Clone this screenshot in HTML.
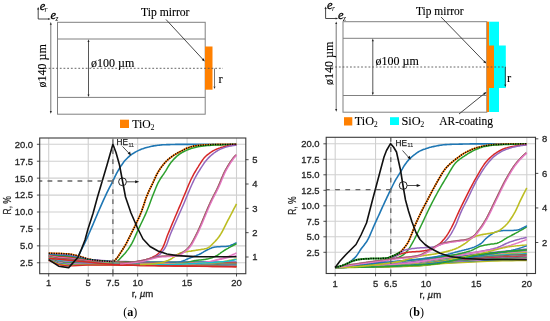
<!DOCTYPE html><html><head><meta charset="utf-8"><style>html,body{margin:0;padding:0;background:#fff;width:550px;height:321px;overflow:hidden}svg{display:block;will-change:transform}</style></head><body>
<svg width="550" height="321" viewBox="0 0 550 321">
<rect width="550" height="321" fill="#fff"/>
<line x1="38.2" y1="19" x2="38.2" y2="8.5" stroke="#333" stroke-width="0.9" />
<polygon points="38.20,7.00 39.30,9.50 37.10,9.50" fill="#222"/>
<line x1="38.2" y1="19" x2="48.7" y2="19" stroke="#333" stroke-width="0.9" />
<polygon points="50.70,19.00 48.20,20.10 48.20,17.90" fill="#222"/>
<text x="39.7" y="9.6" font-family="'Liberation Serif', serif" font-style="italic" font-size="12.5" stroke="#000" stroke-width="0.3">e</text>
<text x="44.5" y="11.8" font-family="'Liberation Serif', serif" font-style="italic" font-size="7.5">r</text>
<text x="50.5" y="19.1" font-family="'Liberation Serif', serif" font-style="italic" font-size="12.5" stroke="#000" stroke-width="0.3">e</text>
<text x="55.5" y="21.2" font-family="'Liberation Serif', serif" font-style="italic" font-size="7.5">z</text>
<rect x="57.5" y="22.3" width="147.7" height="91.9" fill="none" stroke="#808080" stroke-width="1"/>
<line x1="57.5" y1="39.0" x2="205.2" y2="39.0" stroke="#808080" stroke-width="1" />
<line x1="57.5" y1="97.4" x2="205.2" y2="97.4" stroke="#808080" stroke-width="1" />
<line x1="50.8" y1="24.3" x2="50.8" y2="112.2" stroke="#666" stroke-width="0.9" />
<polygon points="50.80,22.10 51.80,24.70 49.80,24.70" fill="#222"/>
<polygon points="50.80,113.70 49.80,111.10 51.80,111.10" fill="#222"/>
<line x1="88.5" y1="41.0" x2="88.5" y2="95.4" stroke="#444" stroke-width="0.9" />
<polygon points="88.50,39.30 89.50,41.90 87.50,41.90" fill="#222"/>
<polygon points="88.50,97.10 87.50,94.50 89.50,94.50" fill="#222"/>
<rect x="205" y="46.5" width="7.5" height="43.2" fill="#ff8000" />
<line x1="45" y1="68.3" x2="223" y2="68.3" stroke="#555" stroke-width="0.9" stroke-dasharray="1.8,1.9"/>
<line x1="214.5" y1="68.5" x2="214.5" y2="86.5" stroke="#666" stroke-width="0.9" />
<polygon points="214.50,89.00 213.50,86.40 215.50,86.40" fill="#222"/>
<text x="218.5" y="83" font-family="'Liberation Serif', serif" font-size="12.5" fill="#000" stroke="#000" stroke-width="0.12" >r</text>
<text x="141" y="15.5" font-family="'Liberation Serif', serif" font-size="12.3" stroke="#000" stroke-width="0.12" textLength="48.5" lengthAdjust="spacingAndGlyphs">Tip mirror</text>
<line x1="166" y1="19.5" x2="203" y2="59.5" stroke="#333" stroke-width="0.9" />
<polygon points="204.80,61.50 201.75,59.96 203.51,58.34" fill="#111"/>
<text x="91" y="66.5" font-family="'Liberation Serif', serif" font-size="12" fill="#000" stroke="#000" stroke-width="0.12" ><tspan font-size="12">ø</tspan>100 µm</text>
<text transform="translate(45.5,87.5) rotate(-90)" font-family="'Liberation Serif', serif" font-size="12" stroke="#000" stroke-width="0.12"><tspan font-size="12">ø</tspan>140 µm</text>
<rect x="120" y="119.7" width="9" height="8.3" fill="#ff8000" />
<text x="132.3" y="127.7" font-family="'Liberation Serif', serif" font-size="12.4" stroke="#000" stroke-width="0.12" textLength="18.4" lengthAdjust="spacingAndGlyphs">TiO</text>
<text x="150.5" y="129.7" font-family="'Liberation Serif', serif" font-size="8">2</text>
<line x1="325.6" y1="18.5" x2="325.6" y2="8.0" stroke="#333" stroke-width="0.9" />
<polygon points="325.60,6.50 326.70,9.00 324.50,9.00" fill="#222"/>
<line x1="325.6" y1="18.5" x2="336.1" y2="18.5" stroke="#333" stroke-width="0.9" />
<polygon points="338.10,18.50 335.60,19.60 335.60,17.40" fill="#222"/>
<text x="327.1" y="9.1" font-family="'Liberation Serif', serif" font-style="italic" font-size="12.5" stroke="#000" stroke-width="0.3">e</text>
<text x="331.90000000000003" y="11.3" font-family="'Liberation Serif', serif" font-style="italic" font-size="7.5">r</text>
<text x="337.90000000000003" y="18.6" font-family="'Liberation Serif', serif" font-style="italic" font-size="12.5" stroke="#000" stroke-width="0.3">e</text>
<text x="342.90000000000003" y="20.7" font-family="'Liberation Serif', serif" font-style="italic" font-size="7.5">z</text>
<rect x="343" y="21.7" width="143.8" height="90.5" fill="none" stroke="#808080" stroke-width="1"/>
<line x1="343" y1="38.3" x2="486.8" y2="38.3" stroke="#808080" stroke-width="1" />
<line x1="343" y1="95.5" x2="486.8" y2="95.5" stroke="#808080" stroke-width="1" />
<line x1="336.2" y1="23.7" x2="336.2" y2="110.2" stroke="#666" stroke-width="0.9" />
<polygon points="336.20,21.50 337.20,24.10 335.20,24.10" fill="#222"/>
<polygon points="336.20,111.70 335.20,109.10 337.20,109.10" fill="#222"/>
<line x1="372.8" y1="40.3" x2="372.8" y2="93.5" stroke="#444" stroke-width="0.9" />
<polygon points="372.80,38.60 373.80,41.20 371.80,41.20" fill="#222"/>
<polygon points="372.80,95.20 371.80,92.60 373.80,92.60" fill="#222"/>
<rect x="486.8" y="21.7" width="2.4" height="90.3" fill="#ff8000" />
<rect x="489.2" y="21.7" width="9.8" height="90.3" fill="#00ffff" />
<rect x="486.8" y="45.5" width="7.2" height="42.5" fill="#ff8000" />
<rect x="494" y="45.5" width="11.8" height="42.5" fill="#00ffff" />
<line x1="331.5" y1="67" x2="506" y2="67" stroke="#555" stroke-width="0.9" stroke-dasharray="1.8,1.9"/>
<line x1="505.3" y1="67" x2="505.3" y2="84.5" stroke="#333" stroke-width="0.9" />
<polygon points="505.30,87.00 504.30,84.40 506.30,84.40" fill="#111"/>
<text x="507" y="81.5" font-family="'Liberation Serif', serif" font-size="12.5" fill="#000" stroke="#000" stroke-width="0.12" >r</text>
<text x="416" y="15.2" font-family="'Liberation Serif', serif" font-size="12.3" stroke="#000" stroke-width="0.12" textLength="47.6" lengthAdjust="spacingAndGlyphs">Tip mirror</text>
<line x1="441" y1="17" x2="484.5" y2="61.8" stroke="#333" stroke-width="0.9" />
<polygon points="486.30,63.60 483.21,62.13 484.94,60.46" fill="#111"/>
<text x="375.5" y="65" font-family="'Liberation Serif', serif" font-size="12" fill="#000" stroke="#000" stroke-width="0.12" ><tspan font-size="12">ø</tspan>100 µm</text>
<text transform="translate(333,85) rotate(-90)" font-family="'Liberation Serif', serif" font-size="12" stroke="#000" stroke-width="0.12"><tspan font-size="12">ø</tspan>140 µm</text>
<line x1="459" y1="114" x2="484.5" y2="93.5" stroke="#333" stroke-width="0.9" />
<polygon points="486.50,92.00 484.75,94.94 483.25,93.06" fill="#111"/>
<rect x="344" y="117.2" width="8.3" height="8.3" fill="#ff8000" />
<text x="354.8" y="125.2" font-family="'Liberation Serif', serif" font-size="12.4" stroke="#000" stroke-width="0.12" textLength="19.2" lengthAdjust="spacingAndGlyphs">TiO</text>
<text x="373.8" y="127.4" font-family="'Liberation Serif', serif" font-size="8">2</text>
<rect x="390" y="117.2" width="9" height="7.8" fill="#00ffff" />
<text x="401.4" y="124.8" font-family="'Liberation Serif', serif" font-size="12.4" stroke="#000" stroke-width="0.12" textLength="19.2" lengthAdjust="spacingAndGlyphs">SiO</text>
<text x="420.3" y="127.1" font-family="'Liberation Serif', serif" font-size="8">2</text>
<text x="439.3" y="124.6" font-family="'Liberation Serif', serif" font-size="12.3" stroke="#000" stroke-width="0.12" textLength="53.7" lengthAdjust="spacingAndGlyphs">AR-coating</text>
<line x1="48.70" y1="138" x2="48.70" y2="273.7" stroke="#d0d0d0" stroke-width="1.1"/>
<line x1="88.24" y1="138" x2="88.24" y2="273.7" stroke="#d0d0d0" stroke-width="1.1"/>
<line x1="112.95" y1="138" x2="112.95" y2="273.7" stroke="#d0d0d0" stroke-width="1.1"/>
<line x1="137.66" y1="138" x2="137.66" y2="273.7" stroke="#d0d0d0" stroke-width="1.1"/>
<line x1="187.08" y1="138" x2="187.08" y2="273.7" stroke="#d0d0d0" stroke-width="1.1"/>
<line x1="236.50" y1="138" x2="236.50" y2="273.7" stroke="#d0d0d0" stroke-width="1.1"/>
<line x1="39.7" y1="262.77" x2="245.8" y2="262.77" stroke="#d0d0d0" stroke-width="1.1"/>
<line x1="39.7" y1="245.85" x2="245.8" y2="245.85" stroke="#d0d0d0" stroke-width="1.1"/>
<line x1="39.7" y1="228.93" x2="245.8" y2="228.93" stroke="#d0d0d0" stroke-width="1.1"/>
<line x1="39.7" y1="212.00" x2="245.8" y2="212.00" stroke="#d0d0d0" stroke-width="1.1"/>
<line x1="39.7" y1="195.08" x2="245.8" y2="195.08" stroke="#d0d0d0" stroke-width="1.1"/>
<line x1="39.7" y1="178.15" x2="245.8" y2="178.15" stroke="#d0d0d0" stroke-width="1.1"/>
<line x1="39.7" y1="161.23" x2="245.8" y2="161.23" stroke="#d0d0d0" stroke-width="1.1"/>
<line x1="39.7" y1="144.30" x2="245.8" y2="144.30" stroke="#d0d0d0" stroke-width="1.1"/>
<line x1="335.20" y1="137.3" x2="335.20" y2="273.5" stroke="#d0d0d0" stroke-width="1.1"/>
<line x1="375.54" y1="137.3" x2="375.54" y2="273.5" stroke="#d0d0d0" stroke-width="1.1"/>
<line x1="390.66" y1="137.3" x2="390.66" y2="273.5" stroke="#d0d0d0" stroke-width="1.1"/>
<line x1="425.96" y1="137.3" x2="425.96" y2="273.5" stroke="#d0d0d0" stroke-width="1.1"/>
<line x1="476.38" y1="137.3" x2="476.38" y2="273.5" stroke="#d0d0d0" stroke-width="1.1"/>
<line x1="526.80" y1="137.3" x2="526.80" y2="273.5" stroke="#d0d0d0" stroke-width="1.1"/>
<line x1="326.2" y1="252.30" x2="535.5" y2="252.30" stroke="#d0d0d0" stroke-width="1.1"/>
<line x1="326.2" y1="236.80" x2="535.5" y2="236.80" stroke="#d0d0d0" stroke-width="1.1"/>
<line x1="326.2" y1="221.30" x2="535.5" y2="221.30" stroke="#d0d0d0" stroke-width="1.1"/>
<line x1="326.2" y1="205.80" x2="535.5" y2="205.80" stroke="#d0d0d0" stroke-width="1.1"/>
<line x1="326.2" y1="190.30" x2="535.5" y2="190.30" stroke="#d0d0d0" stroke-width="1.1"/>
<line x1="326.2" y1="174.80" x2="535.5" y2="174.80" stroke="#d0d0d0" stroke-width="1.1"/>
<line x1="326.2" y1="159.30" x2="535.5" y2="159.30" stroke="#d0d0d0" stroke-width="1.1"/>
<line x1="326.2" y1="143.80" x2="535.5" y2="143.80" stroke="#d0d0d0" stroke-width="1.1"/>
<defs><clipPath id="clipL"><rect x="39.7" y="138" width="206.1" height="135.7"/></clipPath><clipPath id="clipR"><rect x="326.2" y="137.3" width="209.3" height="136.2"/></clipPath></defs>
<g clip-path="url(#clipL)">
<polyline points="48.7,256.0 49.7,256.3 50.7,256.6 51.7,256.9 52.7,257.2 53.7,257.5 54.7,257.7 55.7,258.0 56.7,258.2 57.7,258.4 58.7,258.5 59.7,258.7 60.7,258.8 61.7,258.9 62.7,259.1 63.7,259.2 64.7,259.3 65.7,259.4 66.7,259.5 67.7,259.5 68.7,259.5 69.7,259.5 70.7,259.4 71.7,259.3 72.7,259.2 73.7,259.0 74.7,258.8 75.7,258.3 76.7,257.7 77.7,256.8 78.7,255.5 79.7,253.4 80.7,251.1 81.7,249.1 82.7,247.1 83.7,245.1 84.7,243.1 85.7,240.9 86.7,238.8 87.7,236.6 88.7,234.3 89.7,232.0 90.7,229.7 91.7,227.4 92.7,225.1 93.7,222.7 94.7,220.4 95.7,218.0 96.7,215.7 97.7,213.3 98.7,211.0 99.7,208.7 100.7,206.4 101.7,204.1 102.7,201.9 103.7,199.7 104.7,197.5 105.7,195.3 106.7,193.2 107.7,191.1 108.7,189.1 109.7,187.2 110.7,185.3 111.7,183.4 112.7,181.4 113.7,179.3 114.7,177.2 115.7,175.1 116.7,173.1 117.7,171.3 118.7,169.6 119.7,168.0 120.7,166.4 121.7,165.0 122.7,163.5 123.7,162.1 124.7,160.8 125.7,159.7 126.7,158.7 127.7,157.7 128.7,156.8 129.7,155.9 130.7,155.2 131.7,154.4 132.7,153.7 133.7,153.1 134.7,152.5 135.7,151.9 136.7,151.4 137.7,150.9 138.7,150.4 139.7,149.9 140.7,149.5 141.7,149.1 142.7,148.8 143.7,148.4 144.7,148.1 145.7,147.8 146.7,147.5 147.7,147.2 148.7,147.0 149.7,146.7 150.7,146.5 151.7,146.3 152.7,146.1 153.7,145.9 154.7,145.7 155.7,145.6 156.7,145.5 157.7,145.3 158.7,145.2 159.7,145.1 160.7,145.0 161.7,144.9 162.7,144.8 163.7,144.8 164.7,144.7 165.7,144.7 166.7,144.6 167.7,144.6 168.7,144.6 169.7,144.6 170.7,144.5 171.7,144.5 172.7,144.5 173.7,144.5 174.7,144.5 175.7,144.4 176.7,144.4 177.7,144.4 178.7,144.4 179.7,144.4 180.7,144.4 181.7,144.4 182.7,144.4 183.7,144.4 184.7,144.4 185.7,144.4 186.7,144.4 187.7,144.4 188.7,144.4 189.7,144.4 190.7,144.4 191.7,144.4 192.7,144.4 193.7,144.4 194.7,144.4 195.7,144.3 196.7,144.3 197.7,144.3 198.7,144.3 199.7,144.3 200.7,144.3 201.7,144.3 202.7,144.3 203.7,144.3 204.7,144.3 205.7,144.3 206.7,144.3 207.7,144.3 208.7,144.3 209.7,144.3 210.7,144.3 211.7,144.3 212.7,144.3 213.7,144.3 214.7,144.3 215.7,144.3 216.7,144.3 217.7,144.3 218.7,144.3 219.7,144.3 220.7,144.3 221.7,144.3 222.7,144.3 223.7,144.3 224.7,144.3 225.7,144.3 226.7,144.3 227.7,144.3 228.7,144.3 229.7,144.3 230.7,144.3 231.7,144.3 232.7,144.3 233.7,144.3 234.7,144.3 235.7,144.3 236.5,144.3" fill="none" stroke="#1f77b4" stroke-width="1.6" stroke-linejoin="round" stroke-linecap="butt" />
<polyline points="48.7,253.2 49.7,253.2 50.7,253.2 51.7,253.3 52.7,253.3 53.7,253.3 54.7,253.4 55.7,253.4 56.7,253.4 57.7,253.5 58.7,253.5 59.7,253.5 60.7,253.6 61.7,253.6 62.7,253.7 63.7,253.7 64.7,253.8 65.7,253.8 66.7,253.9 67.7,253.9 68.7,254.0 69.7,254.1 70.7,254.3 71.7,254.4 72.7,254.6 73.7,254.9 74.7,255.1 75.7,255.3 76.7,255.6 77.7,255.8 78.7,256.1 79.7,256.4 80.7,256.7 81.7,257.0 82.7,257.3 83.7,257.7 84.7,258.0 85.7,258.3 86.7,258.6 87.7,258.9 88.7,259.1 89.7,259.3 90.7,259.5 91.7,259.7 92.7,259.8 93.7,260.0 94.7,260.1 95.7,260.2 96.7,260.4 97.7,260.5 98.7,260.6 99.7,260.7 100.7,260.8 101.7,260.9 102.7,260.9 103.7,261.0 104.7,261.1 105.7,261.2 106.7,261.3 107.7,261.3 108.7,261.4 109.7,261.4 110.7,261.5 111.7,261.5 112.7,261.5 113.7,261.3 114.7,260.6 115.7,259.5 116.7,258.3 117.7,257.1 118.7,255.6 119.7,254.0 120.7,252.4 121.7,250.9 122.7,249.4 123.7,247.8 124.7,246.2 125.7,244.5 126.7,242.7 127.7,240.7 128.7,238.6 129.7,236.6 130.7,234.6 131.7,232.7 132.7,230.7 133.7,228.7 134.7,226.6 135.7,224.5 136.7,222.4 137.7,220.3 138.7,218.1 139.7,215.9 140.7,213.5 141.7,211.0 142.7,208.1 143.7,205.1 144.7,202.0 145.7,199.0 146.7,196.3 147.7,193.8 148.7,191.6 149.7,189.4 150.7,187.4 151.7,185.4 152.7,183.3 153.7,181.2 154.7,179.0 155.7,176.7 156.7,174.6 157.7,172.7 158.7,171.0 159.7,169.4 160.7,168.0 161.7,166.6 162.7,165.4 163.7,164.1 164.7,162.9 165.7,161.8 166.7,160.8 167.7,159.9 168.7,159.0 169.7,158.2 170.7,157.4 171.7,156.7 172.7,156.0 173.7,155.3 174.7,154.7 175.7,154.1 176.7,153.5 177.7,152.9 178.7,152.4 179.7,151.9 180.7,151.4 181.7,150.8 182.7,150.3 183.7,149.8 184.7,149.2 185.7,148.7 186.7,148.3 187.7,147.9 188.7,147.6 189.7,147.2 190.7,146.9 191.7,146.6 192.7,146.3 193.7,146.1 194.7,145.9 195.7,145.8 196.7,145.7 197.7,145.6 198.7,145.5 199.7,145.4 200.7,145.3 201.7,145.2 202.7,145.1 203.7,145.0 204.7,144.9 205.7,144.9 206.7,144.8 207.7,144.8 208.7,144.7 209.7,144.7 210.7,144.7 211.7,144.7 212.7,144.6 213.7,144.6 214.7,144.6 215.7,144.6 216.7,144.5 217.7,144.5 218.7,144.5 219.7,144.5 220.7,144.5 221.7,144.4 222.7,144.4 223.7,144.4 224.7,144.4 225.7,144.4 226.7,144.4 227.7,144.4 228.7,144.3 229.7,144.3 230.7,144.3 231.7,144.3 232.7,144.3 233.7,144.3 234.7,144.3 235.7,144.3 236.5,144.3" fill="none" stroke="#ff7f0e" stroke-width="1.8" stroke-linejoin="round" stroke-linecap="butt" />
<polyline points="112.9,262.5 113.9,262.4 114.9,262.3 115.9,262.0 116.9,261.6 117.9,260.9 118.9,259.9 119.9,258.8 120.9,257.7 121.9,256.6 122.9,255.6 123.9,254.5 124.9,253.4 125.9,252.2 126.9,250.9 127.9,249.6 128.9,248.2 129.9,246.7 130.9,245.0 131.9,243.3 132.9,241.3 133.9,239.3 134.9,237.1 135.9,234.9 136.9,232.6 137.9,230.4 138.9,228.2 139.9,226.1 140.9,224.0 141.9,222.0 142.9,219.9 143.9,217.8 144.9,215.6 145.9,213.4 146.9,211.0 147.9,208.5 148.9,205.9 149.9,203.2 150.9,200.5 151.9,197.8 152.9,195.2 153.9,192.7 154.9,190.2 155.9,187.7 156.9,185.4 157.9,183.2 158.9,181.3 159.9,179.6 160.9,178.0 161.9,176.5 162.9,175.1 163.9,173.7 164.9,172.2 165.9,170.6 166.9,168.9 167.9,167.2 168.9,165.5 169.9,164.0 170.9,162.6 171.9,161.4 172.9,160.2 173.9,159.1 174.9,158.1 175.9,157.1 176.9,156.2 177.9,155.4 178.9,154.6 179.9,153.9 180.9,153.3 181.9,152.7 182.9,152.1 183.9,151.5 184.9,151.0 185.9,150.6 186.9,150.1 187.9,149.7 188.9,149.3 189.9,149.0 190.9,148.6 191.9,148.3 192.9,148.0 193.9,147.8 194.9,147.5 195.9,147.2 196.9,147.0 197.9,146.8 198.9,146.6 199.9,146.5 200.9,146.3 201.9,146.2 202.9,146.0 203.9,145.9 204.9,145.8 205.9,145.7 206.9,145.6 207.9,145.5 208.9,145.5 209.9,145.4 210.9,145.3 211.9,145.3 212.9,145.2 213.9,145.1 214.9,145.1 215.9,145.1 216.9,145.0 217.9,145.0 218.9,145.0 219.9,144.9 220.9,144.9 221.9,144.9 222.9,144.8 223.9,144.8 224.9,144.8 225.9,144.7 226.9,144.7 227.9,144.7 228.9,144.7 229.9,144.7 230.9,144.6 231.9,144.6 232.9,144.6 233.9,144.6 234.9,144.6 235.9,144.6 236.5,144.6" fill="none" stroke="#2ca02c" stroke-width="1.5" stroke-linejoin="round" stroke-linecap="butt" />
<polyline points="120.0,263.5 121.0,263.5 122.0,263.5 123.0,263.4 124.0,263.3 125.0,263.3 126.0,263.2 127.0,263.1 128.0,263.0 129.0,262.8 130.0,262.7 131.0,262.6 132.0,262.4 133.0,262.2 134.0,262.1 135.0,261.9 136.0,261.7 137.0,261.6 138.0,261.4 139.0,261.2 140.0,261.0 141.0,260.8 142.0,260.6 143.0,260.4 144.0,260.1 145.0,259.9 146.0,259.6 147.0,259.3 148.0,259.0 149.0,258.6 150.0,258.3 151.0,257.9 152.0,257.5 153.0,257.0 154.0,256.5 155.0,256.0 156.0,255.4 157.0,254.7 158.0,253.8 159.0,252.8 160.0,251.6 161.0,250.4 162.0,249.0 163.0,247.2 164.0,244.9 165.0,242.2 166.0,239.4 167.0,236.6 168.0,234.0 169.0,231.6 170.0,229.2 171.0,226.8 172.0,224.4 173.0,222.0 174.0,219.7 175.0,217.3 176.0,215.0 177.0,212.6 178.0,210.3 179.0,207.9 180.0,205.6 181.0,203.2 182.0,200.8 183.0,198.4 184.0,196.0 185.0,193.6 186.0,191.2 187.0,188.8 188.0,186.4 189.0,184.0 190.0,181.7 191.0,179.5 192.0,177.5 193.0,175.6 194.0,173.7 195.0,172.0 196.0,170.3 197.0,168.7 198.0,167.1 199.0,165.4 200.0,163.8 201.0,162.3 202.0,160.8 203.0,159.4 204.0,158.1 205.0,157.0 206.0,156.0 207.0,155.1 208.0,154.3 209.0,153.6 210.0,152.8 211.0,152.2 212.0,151.5 213.0,150.9 214.0,150.4 215.0,149.9 216.0,149.4 217.0,149.0 218.0,148.6 219.0,148.2 220.0,147.9 221.0,147.5 222.0,147.2 223.0,147.0 224.0,146.7 225.0,146.4 226.0,146.2 227.0,146.0 228.0,145.8 229.0,145.6 230.0,145.4 231.0,145.3 232.0,145.1 233.0,145.0 234.0,144.8 235.0,144.7 236.0,144.6 236.5,144.6" fill="none" stroke="#d62728" stroke-width="1.5" stroke-linejoin="round" stroke-linecap="butt" />
<polyline points="120.0,263.5 121.0,263.5 122.0,263.5 123.0,263.4 124.0,263.4 125.0,263.3 126.0,263.2 127.0,263.1 128.0,263.0 129.0,262.9 130.0,262.8 131.0,262.6 132.0,262.5 133.0,262.3 134.0,262.1 135.0,262.0 136.0,261.8 137.0,261.6 138.0,261.4 139.0,261.2 140.0,261.0 141.0,260.8 142.0,260.6 143.0,260.4 144.0,260.2 145.0,260.0 146.0,259.8 147.0,259.6 148.0,259.3 149.0,259.1 150.0,258.8 151.0,258.5 152.0,258.1 153.0,257.8 154.0,257.4 155.0,257.0 156.0,256.5 157.0,256.0 158.0,255.5 159.0,254.9 160.0,254.1 161.0,253.1 162.0,252.0 163.0,250.8 164.0,249.5 165.0,248.0 166.0,246.1 167.0,243.7 168.0,240.9 169.0,238.0 170.0,235.3 171.0,232.8 172.0,230.4 173.0,228.1 174.0,225.8 175.0,223.5 176.0,221.2 177.0,219.0 178.0,216.7 179.0,214.5 180.0,212.3 181.0,210.0 182.0,207.8 183.0,205.5 184.0,203.2 185.0,200.8 186.0,198.4 187.0,196.0 188.0,193.5 189.0,191.2 190.0,188.8 191.0,186.5 192.0,184.3 193.0,182.1 194.0,180.0 195.0,178.0 196.0,176.2 197.0,174.4 198.0,172.7 199.0,171.1 200.0,169.5 201.0,167.9 202.0,166.4 203.0,164.8 204.0,163.3 205.0,161.9 206.0,160.7 207.0,159.5 208.0,158.4 209.0,157.4 210.0,156.4 211.0,155.5 212.0,154.6 213.0,153.8 214.0,153.0 215.0,152.3 216.0,151.6 217.0,151.0 218.0,150.4 219.0,149.9 220.0,149.4 221.0,148.9 222.0,148.5 223.0,148.1 224.0,147.7 225.0,147.4 226.0,147.1 227.0,146.8 228.0,146.6 229.0,146.3 230.0,146.1 231.0,145.9 232.0,145.7 233.0,145.6 234.0,145.4 235.0,145.3 236.0,145.2 236.5,145.2" fill="none" stroke="#9467bd" stroke-width="1.5" stroke-linejoin="round" stroke-linecap="butt" />
<polyline points="48.7,254.2 53.5,254.4 58.3,254.6 63.1,254.8 68.0,255.0 72.8,255.9 77.6,257.0 82.4,258.0 87.2,259.1 92.0,259.6 96.9,260.0 101.7,260.3 106.5,260.7 111.3,261.1 116.1,261.3 120.9,261.4 125.7,261.5 130.6,261.6 135.4,261.7 140.2,261.8 145.0,261.8 149.8,261.8 154.6,261.8 159.5,261.8 164.3,261.9 169.1,261.9 173.9,261.9 178.7,261.9 183.5,261.9 188.3,261.9 193.2,261.9 198.0,261.9 202.8,261.9 207.6,261.9 212.4,262.0 217.2,262.0 222.1,262.0 226.9,262.0 231.7,262.0 236.5,262.0" fill="none" stroke="#9467bd" stroke-width="1.3" stroke-linejoin="round" stroke-linecap="butt" />
<polyline points="48.7,254.6 53.5,255.0 58.3,255.3 63.1,255.5 68.0,255.8 72.8,256.6 77.6,257.6 82.4,258.6 87.2,259.5 92.0,260.0 96.9,260.3 101.7,260.7 106.5,261.0 111.3,261.4 116.1,261.6 120.9,261.7 125.7,261.8 130.6,261.9 135.4,262.0 140.2,262.1 145.0,262.1 149.8,262.1 154.6,262.1 159.5,262.1 164.3,262.1 169.1,262.1 173.9,262.2 178.7,262.2 183.5,262.2 188.3,262.2 193.2,262.2 198.0,262.2 202.8,262.2 207.6,262.3 212.4,262.3 217.2,262.3 222.1,262.3 226.9,262.3 231.7,262.3 236.5,262.3" fill="none" stroke="#1f77b4" stroke-width="1.3" stroke-linejoin="round" stroke-linecap="butt" />
<polyline points="48.7,255.1 53.5,255.6 58.3,256.0 63.1,256.3 68.0,256.5 72.8,257.3 77.6,258.2 82.4,259.1 87.2,260.0 92.0,260.4 96.9,260.7 101.7,261.0 106.5,261.3 111.3,261.7 116.1,261.8 120.9,261.9 125.7,262.0 130.6,262.1 135.4,262.2 140.2,262.3 145.0,262.3 149.8,262.4 154.6,262.4 159.5,262.4 164.3,262.4 169.1,262.4 173.9,262.5 178.7,262.5 183.5,262.5 188.3,262.5 193.2,262.5 198.0,262.5 202.8,262.6 207.6,262.6 212.4,262.6 217.2,262.6 222.1,262.6 226.9,262.7 231.7,262.7 236.5,262.7" fill="none" stroke="#2ca02c" stroke-width="1.3" stroke-linejoin="round" stroke-linecap="butt" />
<polyline points="48.7,255.5 53.5,256.1 58.3,256.8 63.1,257.0 68.0,257.3 72.8,258.0 77.6,258.8 82.4,259.6 87.2,260.4 92.0,260.8 96.9,261.1 101.7,261.4 106.5,261.7 111.3,262.0 116.1,262.1 120.9,262.2 125.7,262.3 130.6,262.4 135.4,262.5 140.2,262.6 145.0,262.6 149.8,262.6 154.6,262.7 159.5,262.7 164.3,262.7 169.1,262.7 173.9,262.7 178.7,262.8 183.5,262.8 188.3,262.8 193.2,262.8 198.0,262.9 202.8,262.9 207.6,262.9 212.4,262.9 217.2,262.9 222.1,263.0 226.9,263.0 231.7,263.0 236.5,263.0" fill="none" stroke="#d62728" stroke-width="1.3" stroke-linejoin="round" stroke-linecap="butt" />
<polyline points="48.7,255.9 53.5,256.7 58.3,257.5 63.1,257.8 68.0,258.1 72.8,258.7 77.6,259.4 82.4,260.1 87.2,260.8 92.0,261.2 96.9,261.5 101.7,261.7 106.5,262.0 111.3,262.3 116.1,262.4 120.9,262.5 125.7,262.6 130.6,262.7 135.4,262.8 140.2,262.9 145.0,262.9 149.8,262.9 154.6,262.9 159.5,263.0 164.3,263.0 169.1,263.0 173.9,263.0 178.7,263.1 183.5,263.1 188.3,263.1 193.2,263.1 198.0,263.2 202.8,263.2 207.6,263.2 212.4,263.2 217.2,263.3 222.1,263.3 226.9,263.3 231.7,263.3 236.5,263.4" fill="none" stroke="#e377c2" stroke-width="1.3" stroke-linejoin="round" stroke-linecap="butt" />
<polyline points="48.7,256.4 53.5,257.3 58.3,258.2 63.1,258.6 68.0,258.9 72.8,259.5 77.6,260.0 82.4,260.7 87.2,261.3 92.0,261.6 96.9,261.8 101.7,262.1 106.5,262.3 111.3,262.5 116.1,262.7 120.9,262.8 125.7,262.9 130.6,262.9 135.4,263.0 140.2,263.1 145.0,263.2 149.8,263.2 154.6,263.2 159.5,263.2 164.3,263.3 169.1,263.3 173.9,263.3 178.7,263.4 183.5,263.4 188.3,263.4 193.2,263.4 198.0,263.5 202.8,263.5 207.6,263.5 212.4,263.6 217.2,263.6 222.1,263.6 226.9,263.7 231.7,263.7 236.5,263.7" fill="none" stroke="#8c564b" stroke-width="1.3" stroke-linejoin="round" stroke-linecap="butt" />
<polyline points="48.7,256.8 53.5,257.9 58.3,258.9 63.1,259.3 68.0,259.7 72.8,260.2 77.6,260.7 82.4,261.2 87.2,261.7 92.0,262.0 96.9,262.2 101.7,262.4 106.5,262.6 111.3,262.8 116.1,263.0 120.9,263.1 125.7,263.1 130.6,263.2 135.4,263.3 140.2,263.4 145.0,263.4 149.8,263.5 154.6,263.5 159.5,263.5 164.3,263.6 169.1,263.6 173.9,263.6 178.7,263.7 183.5,263.7 188.3,263.7 193.2,263.8 198.0,263.8 202.8,263.8 207.6,263.9 212.4,263.9 217.2,263.9 222.1,264.0 226.9,264.0 231.7,264.0 236.5,264.1" fill="none" stroke="#7f7f7f" stroke-width="1.3" stroke-linejoin="round" stroke-linecap="butt" />
<polyline points="48.7,257.2 53.5,258.4 58.3,259.6 63.1,260.1 68.0,260.5 72.8,260.9 77.6,261.3 82.4,261.7 87.2,262.2 92.0,262.4 96.9,262.6 101.7,262.8 106.5,263.0 111.3,263.1 116.1,263.3 120.9,263.3 125.7,263.4 130.6,263.5 135.4,263.6 140.2,263.7 145.0,263.7 149.8,263.7 154.6,263.8 159.5,263.8 164.3,263.8 169.1,263.9 173.9,263.9 178.7,264.0 183.5,264.0 188.3,264.0 193.2,264.1 198.0,264.1 202.8,264.1 207.6,264.2 212.4,264.2 217.2,264.3 222.1,264.3 226.9,264.3 231.7,264.4 236.5,264.4" fill="none" stroke="#bcbd22" stroke-width="1.3" stroke-linejoin="round" stroke-linecap="butt" />
<polyline points="48.7,257.7 53.5,259.0 58.3,260.4 63.1,260.8 68.0,261.2 72.8,261.6 77.6,261.9 82.4,262.2 87.2,262.6 92.0,262.8 96.9,263.0 101.7,263.1 106.5,263.3 111.3,263.4 116.1,263.5 120.9,263.6 125.7,263.7 130.6,263.8 135.4,263.8 140.2,263.9 145.0,264.0 149.8,264.0 154.6,264.0 159.5,264.1 164.3,264.1 169.1,264.2 173.9,264.2 178.7,264.2 183.5,264.3 188.3,264.3 193.2,264.4 198.0,264.4 202.8,264.5 207.6,264.5 212.4,264.5 217.2,264.6 222.1,264.6 226.9,264.7 231.7,264.7 236.5,264.7" fill="none" stroke="#17becf" stroke-width="1.3" stroke-linejoin="round" stroke-linecap="butt" />
<polyline points="48.7,258.1 53.5,259.6 58.3,261.1 63.1,261.6 68.0,262.0 72.8,262.3 77.6,262.5 82.4,262.8 87.2,263.0 92.0,263.2 96.9,263.3 101.7,263.5 106.5,263.6 111.3,263.7 116.1,263.8 120.9,263.9 125.7,264.0 130.6,264.0 135.4,264.1 140.2,264.2 145.0,264.2 149.8,264.3 154.6,264.3 159.5,264.4 164.3,264.4 169.1,264.5 173.9,264.5 178.7,264.5 183.5,264.6 188.3,264.6 193.2,264.7 198.0,264.7 202.8,264.8 207.6,264.8 212.4,264.9 217.2,264.9 222.1,264.9 226.9,265.0 231.7,265.0 236.5,265.1" fill="none" stroke="#9467bd" stroke-width="1.3" stroke-linejoin="round" stroke-linecap="butt" />
<polyline points="48.7,258.6 53.5,260.2 58.3,261.8 63.1,262.3 68.0,262.8 72.8,263.0 77.6,263.1 82.4,263.3 87.2,263.5 92.0,263.6 96.9,263.7 101.7,263.8 106.5,263.9 111.3,264.0 116.1,264.1 120.9,264.2 125.7,264.2 130.6,264.3 135.4,264.4 140.2,264.4 145.0,264.5 149.8,264.5 154.6,264.6 159.5,264.6 164.3,264.7 169.1,264.7 173.9,264.8 178.7,264.8 183.5,264.9 188.3,264.9 193.2,265.0 198.0,265.0 202.8,265.1 207.6,265.1 212.4,265.2 217.2,265.2 222.1,265.3 226.9,265.3 231.7,265.4 236.5,265.4" fill="none" stroke="#2ca02c" stroke-width="1.3" stroke-linejoin="round" stroke-linecap="butt" />
<polyline points="48.7,259.0 53.5,260.8 58.3,262.5 63.1,263.1 68.0,263.6 72.8,263.7 77.6,263.7 82.4,263.8 87.2,263.9 92.0,264.0 96.9,264.1 101.7,264.2 106.5,264.2 111.3,264.3 116.1,264.4 120.9,264.5 125.7,264.5 130.6,264.6 135.4,264.6 140.2,264.7 145.0,264.8 149.8,264.8 154.6,264.9 159.5,264.9 164.3,265.0 169.1,265.0 173.9,265.1 178.7,265.1 183.5,265.2 188.3,265.2 193.2,265.3 198.0,265.3 202.8,265.4 207.6,265.5 212.4,265.5 217.2,265.6 222.1,265.6 226.9,265.7 231.7,265.7 236.5,265.8" fill="none" stroke="#e377c2" stroke-width="1.3" stroke-linejoin="round" stroke-linecap="butt" />
<polyline points="48.7,259.4 53.5,261.3 58.3,263.2 63.1,263.8 68.0,264.4 72.8,264.4 77.6,264.3 82.4,264.3 87.2,264.4 92.0,264.4 96.9,264.5 101.7,264.5 106.5,264.6 111.3,264.6 116.1,264.7 120.9,264.7 125.7,264.8 130.6,264.9 135.4,264.9 140.2,265.0 145.0,265.0 149.8,265.1 154.6,265.1 159.5,265.2 164.3,265.3 169.1,265.3 173.9,265.4 178.7,265.4 183.5,265.5 188.3,265.5 193.2,265.6 198.0,265.7 202.8,265.7 207.6,265.8 212.4,265.8 217.2,265.9 222.1,265.9 226.9,266.0 231.7,266.1 236.5,266.1" fill="none" stroke="#1f77b4" stroke-width="1.3" stroke-linejoin="round" stroke-linecap="butt" />
<polyline points="48.7,259.9 53.5,261.9 58.3,264.0 63.1,264.6 68.0,265.2 72.8,265.1 77.6,264.9 82.4,264.9 87.2,264.8 92.0,264.8 96.9,264.8 101.7,264.9 106.5,264.9 111.3,264.9 116.1,265.0 120.9,265.0 125.7,265.1 130.6,265.1 135.4,265.2 140.2,265.2 145.0,265.3 149.8,265.4 154.6,265.4 159.5,265.5 164.3,265.5 169.1,265.6 173.9,265.7 178.7,265.7 183.5,265.8 188.3,265.8 193.2,265.9 198.0,266.0 202.8,266.0 207.6,266.1 212.4,266.2 217.2,266.2 222.1,266.3 226.9,266.3 231.7,266.4 236.5,266.5" fill="none" stroke="#bcbd22" stroke-width="1.3" stroke-linejoin="round" stroke-linecap="butt" />
<polyline points="48.7,260.3 53.5,262.5 58.3,264.7 63.1,265.4 68.0,265.9 72.8,265.8 77.6,265.5 82.4,265.4 87.2,265.2 92.0,265.2 96.9,265.2 101.7,265.2 106.5,265.2 111.3,265.2 116.1,265.2 120.9,265.3 125.7,265.3 130.6,265.4 135.4,265.4 140.2,265.5 145.0,265.6 149.8,265.6 154.6,265.7 159.5,265.8 164.3,265.8 169.1,265.9 173.9,266.0 178.7,266.0 183.5,266.1 188.3,266.2 193.2,266.2 198.0,266.3 202.8,266.3 207.6,266.4 212.4,266.5 217.2,266.5 222.1,266.6 226.9,266.7 231.7,266.7 236.5,266.8" fill="none" stroke="#d62728" stroke-width="1.3" stroke-linejoin="round" stroke-linecap="butt" />
<polyline points="140.0,263.5 141.0,263.5 142.0,263.5 143.0,263.5 144.0,263.5 145.0,263.5 146.0,263.5 147.0,263.5 148.0,263.5 149.0,263.5 150.0,263.5 151.0,263.5 152.0,263.4 153.0,263.4 154.0,263.4 155.0,263.4 156.0,263.4 157.0,263.4 158.0,263.4 159.0,263.4 160.0,263.3 161.0,263.3 162.0,263.3 163.0,263.3 164.0,263.3 165.0,263.3 166.0,263.2 167.0,263.2 168.0,263.2 169.0,263.2 170.0,263.1 171.0,263.1 172.0,263.1 173.0,263.1 174.0,263.0 175.0,263.0 176.0,262.9 177.0,262.8 178.0,262.6 179.0,262.3 180.0,262.0 181.0,261.7 182.0,261.3 183.0,260.9 184.0,260.5 185.0,260.1 186.0,259.6 187.0,259.2 188.0,258.8 189.0,258.4 190.0,258.0 191.0,257.6 192.0,257.3 193.0,256.9 194.0,256.5 195.0,256.1 196.0,255.7 197.0,255.3 198.0,254.9 199.0,254.5 200.0,254.0 201.0,253.5 202.0,252.9 203.0,252.3 204.0,251.7 205.0,251.1 206.0,250.5 207.0,250.0 208.0,249.5 209.0,249.1 210.0,248.6 211.0,248.2 212.0,247.8 213.0,247.4 214.0,247.2 215.0,247.0 216.0,246.9 217.0,246.8 218.0,246.8 219.0,246.7 220.0,246.7 221.0,246.6 222.0,246.6 223.0,246.6 224.0,246.5 225.0,246.5 226.0,246.4 227.0,246.3 228.0,246.2 229.0,245.9 230.0,245.6 231.0,245.2 232.0,244.8 233.0,244.4 234.0,243.8 235.0,243.3 236.0,242.8 236.5,242.5" fill="none" stroke="#1f77b4" stroke-width="1.5" stroke-linejoin="round" stroke-linecap="butt" />
<polyline points="150.0,264.0 151.0,264.0 152.0,264.0 153.0,264.0 154.0,264.0 155.0,264.0 156.0,264.0 157.0,264.0 158.0,264.0 159.0,263.9 160.0,263.9 161.0,263.9 162.0,263.9 163.0,263.9 164.0,263.9 165.0,263.8 166.0,263.8 167.0,263.8 168.0,263.7 169.0,263.7 170.0,263.7 171.0,263.7 172.0,263.6 173.0,263.6 174.0,263.5 175.0,263.5 176.0,263.5 177.0,263.4 178.0,263.4 179.0,263.3 180.0,263.3 181.0,263.2 182.0,263.2 183.0,263.1 184.0,263.1 185.0,263.0 186.0,262.9 187.0,262.7 188.0,262.5 189.0,262.2 190.0,261.9 191.0,261.5 192.0,261.2 193.0,260.9 194.0,260.7 195.0,260.5 196.0,260.4 197.0,260.3 198.0,260.2 199.0,260.1 200.0,260.0 201.0,259.9 202.0,259.8 203.0,259.8 204.0,259.6 205.0,259.5 206.0,259.3 207.0,259.1 208.0,258.9 209.0,258.6 210.0,258.3 211.0,258.0 212.0,257.7 213.0,257.3 214.0,256.9 215.0,256.5 216.0,256.0 217.0,255.5 218.0,254.9 219.0,254.2 220.0,253.5 221.0,252.7 222.0,252.0 223.0,251.3 224.0,250.6 225.0,250.0 226.0,249.4 227.0,248.8 228.0,248.3 229.0,247.7 230.0,247.1 231.0,246.6 232.0,246.1 233.0,245.5 234.0,245.0 235.0,244.5 236.0,244.0 236.5,243.8" fill="none" stroke="#2ca02c" stroke-width="1.5" stroke-linejoin="round" stroke-linecap="butt" />
<polyline points="140.0,264.0 141.0,264.0 142.0,264.0 143.0,264.0 144.0,264.0 145.0,264.0 146.0,264.0 147.0,264.0 148.0,264.0 149.0,264.0 150.0,264.0 151.0,264.0 152.0,264.0 153.0,264.0 154.0,264.0 155.0,263.9 156.0,263.9 157.0,263.9 158.0,263.9 159.0,263.9 160.0,263.9 161.0,263.9 162.0,263.9 163.0,263.9 164.0,263.9 165.0,263.8 166.0,263.8 167.0,263.8 168.0,263.8 169.0,263.8 170.0,263.8 171.0,263.7 172.0,263.7 173.0,263.7 174.0,263.7 175.0,263.7 176.0,263.7 177.0,263.6 178.0,263.6 179.0,263.6 180.0,263.6 181.0,263.5 182.0,263.5 183.0,263.5 184.0,263.5 185.0,263.5 186.0,263.4 187.0,263.4 188.0,263.4 189.0,263.3 190.0,263.3 191.0,263.3 192.0,263.3 193.0,263.2 194.0,263.2 195.0,263.2 196.0,263.1 197.0,263.1 198.0,263.1 199.0,263.0 200.0,263.0 201.0,263.0 202.0,262.9 203.0,262.8 204.0,262.7 205.0,262.5 206.0,262.4 207.0,262.2 208.0,262.0 209.0,261.9 210.0,261.6 211.0,261.4 212.0,261.2 213.0,260.9 214.0,260.7 215.0,260.4 216.0,260.1 217.0,259.8 218.0,259.6 219.0,259.3 220.0,259.0 221.0,258.7 222.0,258.4 223.0,258.1 224.0,257.8 225.0,257.5 226.0,257.2 227.0,256.9 228.0,256.5 229.0,256.2 230.0,255.8 231.0,255.4 232.0,255.0 233.0,254.5 234.0,254.1 235.0,253.7 236.0,253.2 236.5,253.0" fill="none" stroke="#e377c2" stroke-width="1.5" stroke-linejoin="round" stroke-linecap="butt" />
<polyline points="140.0,264.5 141.0,264.5 142.0,264.5 143.0,264.5 144.0,264.5 145.0,264.5 146.0,264.5 147.0,264.5 148.0,264.5 149.0,264.5 150.0,264.5 151.0,264.5 152.0,264.5 153.0,264.5 154.0,264.5 155.0,264.4 156.0,264.4 157.0,264.4 158.0,264.4 159.0,264.4 160.0,264.4 161.0,264.4 162.0,264.4 163.0,264.4 164.0,264.4 165.0,264.3 166.0,264.3 167.0,264.3 168.0,264.3 169.0,264.3 170.0,264.3 171.0,264.3 172.0,264.2 173.0,264.2 174.0,264.2 175.0,264.2 176.0,264.2 177.0,264.2 178.0,264.1 179.0,264.1 180.0,264.1 181.0,264.1 182.0,264.0 183.0,264.0 184.0,264.0 185.0,264.0 186.0,263.9 187.0,263.9 188.0,263.9 189.0,263.9 190.0,263.8 191.0,263.8 192.0,263.8 193.0,263.7 194.0,263.7 195.0,263.7 196.0,263.6 197.0,263.6 198.0,263.6 199.0,263.5 200.0,263.5 201.0,263.4 202.0,263.3 203.0,263.2 204.0,263.1 205.0,262.9 206.0,262.7 207.0,262.4 208.0,262.2 209.0,262.0 210.0,261.7 211.0,261.5 212.0,261.2 213.0,261.0 214.0,260.7 215.0,260.5 216.0,260.3 217.0,260.1 218.0,259.9 219.0,259.6 220.0,259.4 221.0,259.2 222.0,259.0 223.0,258.7 224.0,258.5 225.0,258.3 226.0,258.0 227.0,257.8 228.0,257.6 229.0,257.3 230.0,257.1 231.0,256.9 232.0,256.6 233.0,256.4 234.0,256.1 235.0,255.9 236.0,255.6 236.5,255.5" fill="none" stroke="#e377c2" stroke-width="1.4" stroke-linejoin="round" stroke-linecap="butt" />
<polyline points="140.0,264.5 141.0,264.5 142.0,264.5 143.0,264.5 144.0,264.5 145.0,264.5 146.0,264.5 147.0,264.5 148.0,264.5 149.0,264.5 150.0,264.5 151.0,264.5 152.0,264.4 153.0,264.4 154.0,264.4 155.0,264.4 156.0,264.4 157.0,264.4 158.0,264.4 159.0,264.4 160.0,264.4 161.0,264.3 162.0,264.3 163.0,264.3 164.0,264.3 165.0,264.3 166.0,264.3 167.0,264.2 168.0,264.2 169.0,264.2 170.0,264.2 171.0,264.2 172.0,264.1 173.0,264.1 174.0,264.1 175.0,264.1 176.0,264.0 177.0,264.0 178.0,264.0 179.0,264.0 180.0,263.9 181.0,263.9 182.0,263.9 183.0,263.8 184.0,263.8 185.0,263.8 186.0,263.7 187.0,263.7 188.0,263.7 189.0,263.6 190.0,263.6 191.0,263.6 192.0,263.5 193.0,263.5 194.0,263.5 195.0,263.4 196.0,263.4 197.0,263.3 198.0,263.3 199.0,263.3 200.0,263.2 201.0,263.2 202.0,263.1 203.0,263.1 204.0,263.0 205.0,263.0 206.0,262.9 207.0,262.9 208.0,262.9 209.0,262.8 210.0,262.8 211.0,262.7 212.0,262.7 213.0,262.6 214.0,262.6 215.0,262.5 216.0,262.4 217.0,262.4 218.0,262.3 219.0,262.2 220.0,262.0 221.0,261.9 222.0,261.8 223.0,261.6 224.0,261.4 225.0,261.3 226.0,261.1 227.0,260.9 228.0,260.7 229.0,260.5 230.0,260.3 231.0,260.1 232.0,259.9 233.0,259.7 234.0,259.5 235.0,259.3 236.0,259.1 236.5,259.0" fill="none" stroke="#bcbd22" stroke-width="1.4" stroke-linejoin="round" stroke-linecap="butt" />
<polyline points="140.0,265.0 141.0,265.0 142.0,265.0 143.0,265.0 144.0,265.0 145.0,265.0 146.0,265.0 147.0,265.0 148.0,265.0 149.0,265.0 150.0,264.9 151.0,264.9 152.0,264.9 153.0,264.9 154.0,264.9 155.0,264.9 156.0,264.9 157.0,264.9 158.0,264.8 159.0,264.8 160.0,264.8 161.0,264.8 162.0,264.8 163.0,264.7 164.0,264.7 165.0,264.7 166.0,264.7 167.0,264.6 168.0,264.6 169.0,264.6 170.0,264.5 171.0,264.5 172.0,264.5 173.0,264.4 174.0,264.4 175.0,264.4 176.0,264.3 177.0,264.3 178.0,264.3 179.0,264.2 180.0,264.2 181.0,264.2 182.0,264.1 183.0,264.1 184.0,264.0 185.0,264.0 186.0,263.9 187.0,263.9 188.0,263.8 189.0,263.8 190.0,263.7 191.0,263.7 192.0,263.6 193.0,263.6 194.0,263.5 195.0,263.5 196.0,263.4 197.0,263.4 198.0,263.3 199.0,263.3 200.0,263.2 201.0,263.2 202.0,263.1 203.0,263.0 204.0,263.0 205.0,262.9 206.0,262.9 207.0,262.8 208.0,262.7 209.0,262.7 210.0,262.6 211.0,262.5 212.0,262.5 213.0,262.4 214.0,262.3 215.0,262.2 216.0,262.2 217.0,262.1 218.0,262.0 219.0,262.0 220.0,261.9 221.0,261.8 222.0,261.7 223.0,261.7 224.0,261.6 225.0,261.5 226.0,261.4 227.0,261.3 228.0,261.1 229.0,261.0 230.0,260.8 231.0,260.6 232.0,260.4 233.0,260.2 234.0,260.0 235.0,259.8 236.0,259.6 236.5,259.5" fill="none" stroke="#17becf" stroke-width="1.4" stroke-linejoin="round" stroke-linecap="butt" />
<polyline points="48.7,258.3 112.9,264.5 140.0,265.6 236.5,266.8" fill="none" stroke="#d62728" stroke-width="1.5" stroke-linejoin="round" stroke-linecap="butt" />
<polyline points="140.0,264.5 141.0,264.5 142.0,264.5 143.0,264.5 144.0,264.4 145.0,264.4 146.0,264.3 147.0,264.3 148.0,264.2 149.0,264.2 150.0,264.1 151.0,264.0 152.0,263.9 153.0,263.8 154.0,263.7 155.0,263.6 156.0,263.5 157.0,263.4 158.0,263.3 159.0,263.1 160.0,263.0 161.0,262.8 162.0,262.6 163.0,262.3 164.0,262.0 165.0,261.6 166.0,261.2 167.0,260.8 168.0,260.4 169.0,259.9 170.0,259.5 171.0,259.0 172.0,258.4 173.0,257.7 174.0,257.0 175.0,256.3 176.0,255.5 177.0,254.8 178.0,254.2 179.0,253.6 180.0,253.1 181.0,252.8 182.0,252.5 183.0,252.3 184.0,252.1 185.0,251.9 186.0,251.8 187.0,251.6 188.0,251.5 189.0,251.3 190.0,251.2 191.0,251.1 192.0,250.9 193.0,250.8 194.0,250.6 195.0,250.5 196.0,250.3 197.0,250.1 198.0,250.0 199.0,249.8 200.0,249.7 201.0,249.5 202.0,249.3 203.0,249.2 204.0,249.0 205.0,248.7 206.0,248.5 207.0,248.2 208.0,247.8 209.0,247.3 210.0,246.5 211.0,245.5 212.0,244.5 213.0,243.5 214.0,242.5 215.0,241.5 216.0,240.4 217.0,239.3 218.0,238.1 219.0,236.8 220.0,235.3 221.0,233.7 222.0,232.0 223.0,230.1 224.0,228.1 225.0,226.1 226.0,224.1 227.0,222.2 228.0,220.2 229.0,218.3 230.0,216.4 231.0,214.5 232.0,212.6 233.0,210.7 234.0,208.7 235.0,206.8 236.0,204.8 236.5,203.8" fill="none" stroke="#bcbd22" stroke-width="1.6" stroke-linejoin="round" stroke-linecap="butt" />
<polyline points="120.0,263.5 121.0,263.5 122.0,263.4 123.0,263.4 124.0,263.3 125.0,263.2 126.0,263.1 127.0,263.1 128.0,263.0 129.0,262.9 130.0,262.8 131.0,262.7 132.0,262.5 133.0,262.4 134.0,262.3 135.0,262.2 136.0,262.0 137.0,261.9 138.0,261.8 139.0,261.6 140.0,261.5 141.0,261.3 142.0,261.2 143.0,261.0 144.0,260.7 145.0,260.5 146.0,260.2 147.0,259.9 148.0,259.6 149.0,259.4 150.0,259.1 151.0,258.8 152.0,258.5 153.0,258.2 154.0,258.0 155.0,257.7 156.0,257.5 157.0,257.3 158.0,257.1 159.0,256.9 160.0,256.8 161.0,256.7 162.0,256.6 163.0,256.5 164.0,256.5 165.0,256.4 166.0,256.4 167.0,256.3 168.0,256.3 169.0,256.2 170.0,256.2 171.0,256.1 172.0,256.1 173.0,256.0 174.0,255.9 175.0,255.8 176.0,255.7 177.0,255.6 178.0,255.4 179.0,255.1 180.0,254.6 181.0,254.0 182.0,253.4 183.0,252.7 184.0,252.0 185.0,251.3 186.0,250.5 187.0,249.7 188.0,248.8 189.0,247.7 190.0,246.5 191.0,245.1 192.0,243.6 193.0,241.8 194.0,239.9 195.0,238.0 196.0,236.0 197.0,234.0 198.0,232.0 199.0,229.8 200.0,227.6 201.0,225.3 202.0,223.0 203.0,220.6 204.0,218.2 205.0,215.8 206.0,213.4 207.0,211.1 208.0,208.7 209.0,206.4 210.0,204.2 211.0,202.0 212.0,199.9 213.0,197.9 214.0,196.0 215.0,194.0 216.0,192.1 217.0,190.1 218.0,188.0 219.0,185.8 220.0,183.5 221.0,181.1 222.0,178.7 223.0,176.3 224.0,174.0 225.0,171.9 226.0,170.0 227.0,168.3 228.0,166.6 229.0,164.9 230.0,163.3 231.0,161.8 232.0,160.4 233.0,159.0 234.0,157.7 235.0,156.6 236.0,155.5 236.5,155.0" fill="none" stroke="#e377c2" stroke-width="2.0" stroke-linejoin="round" stroke-linecap="butt" />
<polyline points="119.4,262.9 120.4,262.9 121.4,262.8 122.4,262.8 123.4,262.7 124.4,262.6 125.4,262.5 126.4,262.5 127.4,262.4 128.4,262.3 129.4,262.2 130.4,262.1 131.4,261.9 132.4,261.8 133.4,261.7 134.4,261.6 135.4,261.4 136.4,261.3 137.4,261.2 138.4,261.0 139.4,260.9 140.4,260.7 141.4,260.6 142.4,260.4 143.4,260.1 144.4,259.9 145.4,259.6 146.4,259.3 147.4,259.0 148.4,258.8 149.4,258.5 150.4,258.2 151.4,257.9 152.4,257.6 153.4,257.4 154.4,257.1 155.4,256.9 156.4,256.7 157.4,256.5 158.4,256.3 159.4,256.2 160.4,256.1 161.4,256.0 162.4,255.9 163.4,255.9 164.4,255.8 165.4,255.8 166.4,255.7 167.4,255.7 168.4,255.6 169.4,255.6 170.4,255.5 171.4,255.5 172.4,255.4 173.4,255.3 174.4,255.2 175.4,255.1 176.4,255.0 177.4,254.8 178.4,254.5 179.4,254.0 180.4,253.4 181.4,252.8 182.4,252.1 183.4,251.4 184.4,250.7 185.4,249.9 186.4,249.1 187.4,248.2 188.4,247.1 189.4,245.9 190.4,244.5 191.4,243.0 192.4,241.2 193.4,239.3 194.4,237.4 195.4,235.4 196.4,233.4 197.4,231.4 198.4,229.2 199.4,227.0 200.4,224.7 201.4,222.4 202.4,220.0 203.4,217.6 204.4,215.2 205.4,212.8 206.4,210.5 207.4,208.1 208.4,205.8 209.4,203.6 210.4,201.4 211.4,199.3 212.4,197.3 213.4,195.4 214.4,193.4 215.4,191.5 216.4,189.5 217.4,187.4 218.4,185.2 219.4,182.9 220.4,180.5 221.4,178.1 222.4,175.7 223.4,173.4 224.4,171.3 225.4,169.4 226.4,167.7 227.4,166.0 228.4,164.3 229.4,162.7 230.4,161.2 231.4,159.8 232.4,158.4 233.4,157.1 234.4,156.0 235.4,154.9 235.9,154.4" fill="none" stroke="#8c564b" stroke-width="0.9" stroke-linejoin="round" stroke-linecap="butt" />
<polyline points="48.7,253.2 49.7,253.2 50.7,253.2 51.7,253.3 52.7,253.3 53.7,253.3 54.7,253.4 55.7,253.4 56.7,253.4 57.7,253.5 58.7,253.5 59.7,253.5 60.7,253.6 61.7,253.6 62.7,253.7 63.7,253.7 64.7,253.8 65.7,253.8 66.7,253.9 67.7,253.9 68.7,254.0 69.7,254.1 70.7,254.3 71.7,254.4 72.7,254.6 73.7,254.9 74.7,255.1 75.7,255.3 76.7,255.6 77.7,255.8 78.7,256.1 79.7,256.4 80.7,256.7 81.7,257.0 82.7,257.3 83.7,257.7 84.7,258.0 85.7,258.3 86.7,258.6 87.7,258.9 88.7,259.1 89.7,259.3 90.7,259.5 91.7,259.7 92.7,259.8 93.7,260.0 94.7,260.1 95.7,260.2 96.7,260.4 97.7,260.5 98.7,260.6 99.7,260.7 100.7,260.8 101.7,260.9 102.7,260.9 103.7,261.0 104.7,261.1 105.7,261.2 106.7,261.3 107.7,261.3 108.7,261.4 109.7,261.4 110.7,261.5 111.7,261.5 112.7,261.5 113.7,261.3 114.7,260.6 115.7,259.5 116.7,258.3 117.7,257.1 118.7,255.6 119.7,254.0 120.7,252.4 121.7,250.9 122.7,249.4 123.7,247.8 124.7,246.2 125.7,244.5 126.7,242.7 127.7,240.7 128.7,238.6 129.7,236.6 130.7,234.6 131.7,232.7 132.7,230.7 133.7,228.7 134.7,226.6 135.7,224.5 136.7,222.4 137.7,220.3 138.7,218.1 139.7,215.9 140.7,213.5 141.7,211.0 142.7,208.1 143.7,205.1 144.7,202.0 145.7,199.0 146.7,196.3 147.7,193.8 148.7,191.6 149.7,189.4 150.7,187.4 151.7,185.4 152.7,183.3 153.7,181.2 154.7,179.0 155.7,176.7 156.7,174.6 157.7,172.7 158.7,171.0 159.7,169.4 160.7,168.0 161.7,166.6 162.7,165.4 163.7,164.1 164.7,162.9 165.7,161.8 166.7,160.8 167.7,159.9 168.7,159.0 169.7,158.2 170.7,157.4 171.7,156.7 172.7,156.0 173.7,155.3 174.7,154.7 175.7,154.1 176.7,153.5 177.7,152.9 178.7,152.4 179.7,151.9 180.7,151.4 181.7,150.8 182.7,150.3 183.7,149.8 184.7,149.2 185.7,148.7 186.7,148.3 187.7,147.9 188.7,147.6 189.7,147.2 190.7,146.9 191.7,146.6 192.7,146.3 193.7,146.1 194.7,145.9 195.7,145.8 196.7,145.7 197.7,145.6 198.7,145.5 199.7,145.4 200.7,145.3 201.7,145.2 202.7,145.1 203.7,145.0 204.7,144.9 205.7,144.9 206.7,144.8 207.7,144.8 208.7,144.7 209.7,144.7 210.7,144.7 211.7,144.7 212.7,144.6 213.7,144.6 214.7,144.6 215.7,144.6 216.7,144.5 217.7,144.5 218.7,144.5 219.7,144.5 220.7,144.5 221.7,144.4 222.7,144.4 223.7,144.4 224.7,144.4 225.7,144.4 226.7,144.4 227.7,144.4 228.7,144.3 229.7,144.3 230.7,144.3 231.7,144.3 232.7,144.3 233.7,144.3 234.7,144.3 235.7,144.3 236.5,144.3" fill="none" stroke="#000" stroke-width="1.5" stroke-linejoin="round" stroke-linecap="butt" stroke-dasharray="1.2,1.25" />
<polyline points="48.7,259.7 58.6,266.2 68.7,267.6 78.0,257.3 81.4,249.3 85.0,240.0 88.0,229.0 93.0,213.5 97.5,197.0 107.0,165.0 112.9,144.3 116.0,152.5 119.5,165.0 125.5,197.0 131.0,213.0 137.5,228.0 143.0,239.0 150.0,246.5 158.0,251.0 167.0,254.0 177.0,255.6 195.0,256.6 236.5,256.8" fill="none" stroke="#111" stroke-width="1.6" stroke-linejoin="round" stroke-linecap="butt" />
</g>
<line x1="39.7" y1="181" x2="112.9" y2="181" stroke="#666" stroke-width="1.3" stroke-dasharray="4.8,5.2" stroke-dashoffset="2.2"/>
<line x1="112.9" y1="138" x2="112.9" y2="273.7" stroke="#666" stroke-width="1.3" stroke-dasharray="4.8,5.2" stroke-dashoffset="8.7"/>
<circle cx="122.5" cy="181.8" r="3.9" fill="none" stroke="#111" stroke-width="0.9"/>
<line x1="126.6" y1="181.8" x2="136" y2="181.8" stroke="#222" stroke-width="0.8"/>
<polygon points="139.2,181.8 135.2,180.3 135.2,183.3" fill="#111"/>
<text x="116.6" y="145.3" font-family="'Liberation Sans', sans-serif" font-size="8.2" fill="#222" stroke="#222" stroke-width="0.25">HE</text>
<text x="128.4" y="147" font-family="'Liberation Sans', sans-serif" font-size="5.3" fill="#333" stroke="#333" stroke-width="0.15">11</text>
<line x1="122.5" y1="146.4" x2="129.3" y2="153.6" stroke="#222" stroke-width="0.8"/>
<polygon points="130.9,155.5 127.7,153.6 130.1,151.5" fill="#111"/>
<g clip-path="url(#clipR)">
<polyline points="335.2,267.5 336.2,267.5 337.2,267.4 338.2,267.2 339.2,267.0 340.2,266.7 341.2,266.4 342.2,266.0 343.2,265.7 344.2,265.3 345.2,264.9 346.2,264.4 347.2,263.8 348.2,263.1 349.2,262.4 350.2,261.6 351.2,260.8 352.2,260.1 353.2,259.2 354.2,258.3 355.2,257.4 356.2,256.3 357.2,254.9 358.2,253.4 359.2,251.8 360.2,250.2 361.2,248.7 362.2,247.4 363.2,246.2 364.2,244.9 365.2,243.6 366.2,242.2 367.2,240.7 368.2,238.9 369.2,236.8 370.2,234.6 371.2,232.3 372.2,230.0 373.2,227.6 374.2,225.3 375.2,223.1 376.2,220.9 377.2,218.7 378.2,216.5 379.2,214.3 380.2,212.1 381.2,209.9 382.2,207.7 383.2,205.5 384.2,203.4 385.2,201.2 386.2,199.1 387.2,196.9 388.2,194.8 389.2,192.7 390.2,190.6 391.2,188.6 392.2,186.5 393.2,184.5 394.2,182.5 395.2,180.6 396.2,178.9 397.2,177.3 398.2,175.7 399.2,174.1 400.2,172.5 401.2,170.8 402.2,169.1 403.2,167.3 404.2,165.7 405.2,164.2 406.2,162.9 407.2,161.6 408.2,160.4 409.2,159.3 410.2,158.3 411.2,157.4 412.2,156.5 413.2,155.6 414.2,154.8 415.2,154.1 416.2,153.3 417.2,152.6 418.2,152.0 419.2,151.4 420.2,150.9 421.2,150.4 422.2,150.0 423.2,149.6 424.2,149.2 425.2,148.9 426.2,148.5 427.2,148.2 428.2,147.9 429.2,147.6 430.2,147.3 431.2,147.1 432.2,146.8 433.2,146.6 434.2,146.4 435.2,146.2 436.2,146.0 437.2,145.8 438.2,145.6 439.2,145.4 440.2,145.3 441.2,145.1 442.2,145.0 443.2,144.8 444.2,144.7 445.2,144.6 446.2,144.6 447.2,144.5 448.2,144.5 449.2,144.5 450.2,144.4 451.2,144.4 452.2,144.3 453.2,144.3 454.2,144.3 455.2,144.2 456.2,144.2 457.2,144.2 458.2,144.2 459.2,144.1 460.2,144.1 461.2,144.1 462.2,144.1 463.2,144.0 464.2,144.0 465.2,144.0 466.2,144.0 467.2,144.0 468.2,144.0 469.2,144.0 470.2,143.9 471.2,143.9 472.2,143.9 473.2,143.9 474.2,143.9 475.2,143.9 476.2,143.9 477.2,143.9 478.2,143.9 479.2,143.9 480.2,143.9 481.2,143.9 482.2,143.9 483.2,143.9 484.2,143.9 485.2,143.9 486.2,143.9 487.2,143.9 488.2,143.9 489.2,143.9 490.2,143.9 491.2,143.8 492.2,143.8 493.2,143.8 494.2,143.8 495.2,143.8 496.2,143.8 497.2,143.8 498.2,143.8 499.2,143.8 500.2,143.8 501.2,143.8 502.2,143.8 503.2,143.8 504.2,143.8 505.2,143.8 506.2,143.8 507.2,143.8 508.2,143.8 509.2,143.8 510.2,143.8 511.2,143.8 512.2,143.8 513.2,143.8 514.2,143.8 515.2,143.8 516.2,143.8 517.2,143.8 518.2,143.8 519.2,143.8 520.2,143.8 521.2,143.8 522.2,143.8 523.2,143.8 524.2,143.8 525.2,143.8 526.2,143.8 526.8,143.8" fill="none" stroke="#1f77b4" stroke-width="1.6" stroke-linejoin="round" stroke-linecap="butt" />
<polyline points="392.0,256.3 393.0,256.1 394.0,255.8 395.0,255.3 396.0,254.8 397.0,254.2 398.0,253.6 399.0,252.9 400.0,252.2 401.0,251.4 402.0,250.3 403.0,249.2 404.0,248.0 405.0,246.8 406.0,245.5 407.0,244.1 408.0,242.5 409.0,240.5 410.0,238.2 411.0,235.7 412.0,233.3 413.0,230.6 414.0,228.0 415.0,225.5 416.0,223.2 417.0,220.9 418.0,218.8 419.0,216.6 420.0,214.6 421.0,212.5 422.0,210.5 423.0,208.5 424.0,206.6 425.0,204.7 426.0,202.8 427.0,200.9 428.0,199.0 429.0,197.1 430.0,195.2 431.0,193.3 432.0,191.3 433.0,189.4 434.0,187.6 435.0,185.8 436.0,184.0 437.0,182.3 438.0,180.5 439.0,178.7 440.0,177.0 441.0,175.3 442.0,173.6 443.0,172.1 444.0,170.6 445.0,169.2 446.0,168.0 447.0,166.9 448.0,165.8 449.0,164.9 450.0,163.9 451.0,163.0 452.0,162.2 453.0,161.4 454.0,160.6 455.0,159.8 456.0,159.0 457.0,158.2 458.0,157.5 459.0,156.7 460.0,156.0 461.0,155.3 462.0,154.6 463.0,153.9 464.0,153.3 465.0,152.7 466.0,152.2 467.0,151.7 468.0,151.2 469.0,150.7 470.0,150.3 471.0,149.8 472.0,149.4 473.0,149.0 474.0,148.7 475.0,148.3 476.0,148.0 477.0,147.7 478.0,147.4 479.0,147.1 480.0,146.9 481.0,146.6 482.0,146.4 483.0,146.1 484.0,145.9 485.0,145.8 486.0,145.6 487.0,145.5 488.0,145.3 489.0,145.2 490.0,145.0 491.0,144.9 492.0,144.8 493.0,144.7 494.0,144.6 495.0,144.6 496.0,144.5 497.0,144.5 498.0,144.4 499.0,144.4 500.0,144.3 501.0,144.3 502.0,144.3 503.0,144.2 504.0,144.2 505.0,144.2 506.0,144.1 507.0,144.1 508.0,144.1 509.0,144.0 510.0,144.0 511.0,144.0 512.0,144.0 513.0,144.0 514.0,143.9 515.0,143.9 516.0,143.9 517.0,143.9 518.0,143.9 519.0,143.8 520.0,143.8 521.0,143.8 522.0,143.8 523.0,143.8 524.0,143.8 525.0,143.8 526.0,143.8 526.8,143.8" fill="none" stroke="#ff7f0e" stroke-width="1.8" stroke-linejoin="round" stroke-linecap="butt" />
<polyline points="396.0,258.0 397.0,257.8 398.0,257.6 399.0,257.2 400.0,256.7 401.0,256.2 402.0,255.6 403.0,255.0 404.0,254.3 405.0,253.4 406.0,252.4 407.0,251.2 408.0,250.0 409.0,248.7 410.0,247.1 411.0,245.4 412.0,243.7 413.0,241.8 414.0,240.0 415.0,238.1 416.0,236.1 417.0,234.0 418.0,232.0 419.0,230.0 420.0,227.9 421.0,225.8 422.0,223.7 423.0,221.6 424.0,219.5 425.0,217.3 426.0,215.2 427.0,213.1 428.0,211.0 429.0,208.9 430.0,206.9 431.0,204.9 432.0,202.9 433.0,201.0 434.0,199.1 435.0,197.2 436.0,195.3 437.0,193.5 438.0,191.7 439.0,189.9 440.0,188.2 441.0,186.4 442.0,184.7 443.0,183.0 444.0,181.3 445.0,179.7 446.0,178.0 447.0,176.3 448.0,174.6 449.0,172.9 450.0,171.1 451.0,169.5 452.0,167.8 453.0,166.3 454.0,164.9 455.0,163.6 456.0,162.5 457.0,161.5 458.0,160.6 459.0,159.8 460.0,159.0 461.0,158.3 462.0,157.6 463.0,156.9 464.0,156.3 465.0,155.6 466.0,155.0 467.0,154.4 468.0,153.7 469.0,153.1 470.0,152.5 471.0,152.0 472.0,151.4 473.0,150.9 474.0,150.4 475.0,149.9 476.0,149.5 477.0,149.1 478.0,148.7 479.0,148.3 480.0,147.9 481.0,147.6 482.0,147.2 483.0,146.9 484.0,146.6 485.0,146.4 486.0,146.2 487.0,146.0 488.0,145.9 489.0,145.7 490.0,145.6 491.0,145.5 492.0,145.3 493.0,145.2 494.0,145.1 495.0,145.1 496.0,145.0 497.0,144.9 498.0,144.9 499.0,144.8 500.0,144.8 501.0,144.7 502.0,144.7 503.0,144.6 504.0,144.6 505.0,144.5 506.0,144.5 507.0,144.5 508.0,144.4 509.0,144.4 510.0,144.3 511.0,144.3 512.0,144.3 513.0,144.2 514.0,144.2 515.0,144.2 516.0,144.1 517.0,144.1 518.0,144.1 519.0,144.1 520.0,144.1 521.0,144.0 522.0,144.0 523.0,144.0 524.0,144.0 525.0,144.0 526.0,144.0 526.8,144.0" fill="none" stroke="#2ca02c" stroke-width="1.5" stroke-linejoin="round" stroke-linecap="butt" />
<polyline points="335.2,267.5 336.2,267.5 337.2,267.5 338.2,267.5 339.2,267.4 340.2,267.4 341.2,267.4 342.2,267.3 343.2,267.3 344.2,267.2 345.2,267.2 346.2,267.1 347.2,267.0 348.2,266.9 349.2,266.8 350.2,266.7 351.2,266.6 352.2,266.5 353.2,266.4 354.2,266.3 355.2,266.2 356.2,266.1 357.2,265.9 358.2,265.8 359.2,265.7 360.2,265.5 361.2,265.4 362.2,265.2 363.2,265.1 364.2,264.9 365.2,264.8 366.2,264.6 367.2,264.4 368.2,264.2 369.2,264.1 370.2,263.9 371.2,263.7 372.2,263.5 373.2,263.3 374.2,263.1 375.2,263.0 376.2,262.8 377.2,262.6 378.2,262.4 379.2,262.2 380.2,262.0 381.2,261.7 382.2,261.5 383.2,261.1 384.2,260.8 385.2,260.4 386.2,260.0 387.2,259.6 388.2,259.2 389.2,258.8 390.2,258.3 391.2,257.9 392.2,257.5 393.2,257.0 394.2,256.6 395.2,256.2 396.2,255.8 397.2,255.4 398.2,254.9 399.2,254.5 400.2,254.1 401.2,253.7 402.2,253.4 403.2,253.2 404.2,253.0 405.2,252.7 406.2,252.5 407.2,252.4 408.2,252.2 409.2,252.1 410.2,252.0 411.2,251.9 412.2,251.8 413.2,251.8 414.2,251.7 415.2,251.7 416.2,251.6 417.2,251.6 418.2,251.5 419.2,251.4 420.2,251.3 421.2,251.2 422.2,251.0 423.2,250.9 424.2,250.7 425.2,250.6 426.2,250.4 427.2,250.2 428.2,249.9 429.2,249.7 430.2,249.4 431.2,249.1 432.2,248.7 433.2,248.2 434.2,247.6 435.2,247.0 436.2,246.3 437.2,245.6 438.2,244.9 439.2,244.1 440.2,243.2 441.2,242.3 442.2,241.2 443.2,240.1 444.2,239.0 445.2,237.7 446.2,236.4 447.2,234.9 448.2,233.3 449.2,231.6 450.2,229.8 451.2,228.0 452.2,226.1 453.2,224.1 454.2,222.0 455.2,219.8 456.2,217.5 457.2,215.3 458.2,213.1 459.2,210.9 460.2,208.8 461.2,206.7 462.2,204.7 463.2,202.6 464.2,200.6 465.2,198.6 466.2,196.6 467.2,194.6 468.2,192.6 469.2,190.7 470.2,188.7 471.2,186.8 472.2,184.9 473.2,183.0 474.2,181.2 475.2,179.4 476.2,177.7 477.2,175.9 478.2,174.1 479.2,172.4 480.2,170.6 481.2,168.9 482.2,167.3 483.2,165.8 484.2,164.3 485.2,163.0 486.2,161.8 487.2,160.7 488.2,159.6 489.2,158.6 490.2,157.6 491.2,156.7 492.2,155.8 493.2,155.0 494.2,154.2 495.2,153.5 496.2,152.9 497.2,152.2 498.2,151.6 499.2,151.0 500.2,150.5 501.2,150.0 502.2,149.5 503.2,149.0 504.2,148.6 505.2,148.2 506.2,147.9 507.2,147.7 508.2,147.4 509.2,147.2 510.2,147.0 511.2,146.8 512.2,146.6 513.2,146.5 514.2,146.3 515.2,146.1 516.2,146.0 517.2,145.8 518.2,145.6 519.2,145.5 520.2,145.3 521.2,145.2 522.2,145.1 523.2,144.9 524.2,144.8 525.2,144.7 526.2,144.6 526.8,144.5" fill="none" stroke="#d62728" stroke-width="1.5" stroke-linejoin="round" stroke-linecap="butt" />
<polyline points="335.2,267.5 336.2,267.5 337.2,267.5 338.2,267.5 339.2,267.4 340.2,267.4 341.2,267.4 342.2,267.3 343.2,267.3 344.2,267.2 345.2,267.2 346.2,267.1 347.2,267.1 348.2,267.0 349.2,266.9 350.2,266.8 351.2,266.7 352.2,266.6 353.2,266.5 354.2,266.4 355.2,266.3 356.2,266.2 357.2,266.1 358.2,265.9 359.2,265.8 360.2,265.7 361.2,265.5 362.2,265.4 363.2,265.2 364.2,265.1 365.2,264.9 366.2,264.8 367.2,264.6 368.2,264.4 369.2,264.2 370.2,264.1 371.2,263.9 372.2,263.7 373.2,263.5 374.2,263.3 375.2,263.1 376.2,262.9 377.2,262.7 378.2,262.5 379.2,262.3 380.2,262.1 381.2,261.9 382.2,261.6 383.2,261.4 384.2,261.2 385.2,261.0 386.2,260.7 387.2,260.3 388.2,260.0 389.2,259.5 390.2,259.1 391.2,258.6 392.2,258.1 393.2,257.5 394.2,257.0 395.2,256.4 396.2,255.9 397.2,255.3 398.2,254.5 399.2,253.7 400.2,252.9 401.2,252.1 402.2,251.4 403.2,250.8 404.2,250.3 405.2,249.9 406.2,249.7 407.2,249.5 408.2,249.3 409.2,249.1 410.2,248.9 411.2,248.8 412.2,248.6 413.2,248.5 414.2,248.4 415.2,248.3 416.2,248.2 417.2,248.1 418.2,248.0 419.2,247.9 420.2,247.8 421.2,247.8 422.2,247.7 423.2,247.7 424.2,247.7 425.2,247.6 426.2,247.6 427.2,247.5 428.2,247.4 429.2,247.4 430.2,247.3 431.2,247.2 432.2,247.0 433.2,246.9 434.2,246.7 435.2,246.4 436.2,246.2 437.2,245.9 438.2,245.6 439.2,245.3 440.2,244.9 441.2,244.4 442.2,243.8 443.2,243.1 444.2,242.2 445.2,241.3 446.2,240.3 447.2,239.3 448.2,238.1 449.2,236.7 450.2,235.2 451.2,233.6 452.2,231.8 453.2,230.0 454.2,228.1 455.2,226.1 456.2,224.0 457.2,221.6 458.2,219.0 459.2,216.4 460.2,213.9 461.2,211.6 462.2,209.4 463.2,207.4 464.2,205.5 465.2,203.5 466.2,201.6 467.2,199.6 468.2,197.6 469.2,195.5 470.2,193.4 471.2,191.3 472.2,189.2 473.2,187.2 474.2,185.1 475.2,183.1 476.2,181.2 477.2,179.4 478.2,177.7 479.2,176.0 480.2,174.3 481.2,172.7 482.2,171.1 483.2,169.5 484.2,168.1 485.2,166.6 486.2,165.3 487.2,164.0 488.2,162.8 489.2,161.6 490.2,160.5 491.2,159.4 492.2,158.3 493.2,157.3 494.2,156.4 495.2,155.6 496.2,154.9 497.2,154.2 498.2,153.5 499.2,152.9 500.2,152.3 501.2,151.7 502.2,151.2 503.2,150.7 504.2,150.2 505.2,149.8 506.2,149.4 507.2,149.0 508.2,148.7 509.2,148.3 510.2,148.0 511.2,147.7 512.2,147.4 513.2,147.1 514.2,146.9 515.2,146.7 516.2,146.5 517.2,146.3 518.2,146.1 519.2,145.9 520.2,145.8 521.2,145.6 522.2,145.5 523.2,145.3 524.2,145.2 525.2,145.1 526.2,145.0 526.8,145.0" fill="none" stroke="#9467bd" stroke-width="1.5" stroke-linejoin="round" stroke-linecap="butt" />
<polyline points="335.2,267.3 340.1,267.0 345.0,266.8 349.9,266.5 354.9,266.3 359.8,266.0 364.7,265.8 369.6,265.5 374.5,265.3 379.4,265.0 384.3,264.8 389.2,264.5 394.2,264.3 399.1,264.0 404.0,263.8 408.9,263.6 413.8,263.3 418.7,263.1 423.6,262.3 428.5,261.3 433.5,260.3 438.4,259.3 443.3,258.5 448.2,257.9 453.1,257.2 458.0,256.5 462.9,255.8 467.8,255.2 472.8,254.5 477.7,253.8 482.6,253.3 487.5,252.8 492.4,252.3 497.3,251.8 502.2,251.4 507.1,250.9 512.1,250.4 517.0,249.9 521.9,249.5 526.8,249.0" fill="none" stroke="#9467bd" stroke-width="1.3" stroke-linejoin="round" stroke-linecap="butt" />
<polyline points="335.2,267.3 340.1,267.1 345.0,266.9 349.9,266.6 354.9,266.4 359.8,266.1 364.7,265.9 369.6,265.7 374.5,265.4 379.4,265.2 384.3,265.0 389.2,264.7 394.2,264.5 399.1,264.2 404.0,264.0 408.9,263.8 413.8,263.5 418.7,263.3 423.6,262.5 428.5,261.6 433.5,260.6 438.4,259.7 443.3,258.9 448.2,258.3 453.1,257.7 458.0,257.0 462.9,256.4 467.8,255.7 472.8,255.1 477.7,254.4 482.6,253.9 487.5,253.4 492.4,253.0 497.3,252.5 502.2,252.1 507.1,251.7 512.1,251.2 517.0,250.8 521.9,250.3 526.8,249.9" fill="none" stroke="#1f77b4" stroke-width="1.3" stroke-linejoin="round" stroke-linecap="butt" />
<polyline points="335.2,267.3 340.1,267.1 345.0,266.9 349.9,266.7 354.9,266.5 359.8,266.3 364.7,266.0 369.6,265.8 374.5,265.6 379.4,265.4 384.3,265.1 389.2,264.9 394.2,264.7 399.1,264.5 404.0,264.2 408.9,264.0 413.8,263.8 418.7,263.5 423.6,262.8 428.5,261.9 433.5,261.0 438.4,260.0 443.3,259.3 448.2,258.7 453.1,258.1 458.0,257.5 462.9,256.9 467.8,256.3 472.8,255.7 477.7,255.1 482.6,254.5 487.5,254.1 492.4,253.7 497.3,253.2 502.2,252.8 507.1,252.4 512.1,252.0 517.0,251.6 521.9,251.2 526.8,250.8" fill="none" stroke="#2ca02c" stroke-width="1.3" stroke-linejoin="round" stroke-linecap="butt" />
<polyline points="335.2,267.4 340.1,267.2 345.0,267.0 349.9,266.8 354.9,266.6 359.8,266.4 364.7,266.2 369.6,266.0 374.5,265.8 379.4,265.6 384.3,265.3 389.2,265.1 394.2,264.9 399.1,264.7 404.0,264.4 408.9,264.2 413.8,264.0 418.7,263.8 423.6,263.0 428.5,262.2 433.5,261.3 438.4,260.4 443.3,259.7 448.2,259.1 453.1,258.6 458.0,258.0 462.9,257.4 467.8,256.8 472.8,256.3 477.7,255.7 482.6,255.2 487.5,254.8 492.4,254.3 497.3,253.9 502.2,253.6 507.1,253.2 512.1,252.8 517.0,252.4 521.9,252.1 526.8,251.7" fill="none" stroke="#e377c2" stroke-width="1.3" stroke-linejoin="round" stroke-linecap="butt" />
<polyline points="335.2,267.4 340.1,267.2 345.0,267.0 349.9,266.8 354.9,266.7 359.8,266.5 364.7,266.3 369.6,266.1 374.5,265.9 379.4,265.7 384.3,265.5 389.2,265.3 394.2,265.1 399.1,264.9 404.0,264.6 408.9,264.4 413.8,264.2 418.7,264.0 423.6,263.3 428.5,262.5 433.5,261.6 438.4,260.8 443.3,260.1 448.2,259.6 453.1,259.0 458.0,258.5 462.9,257.9 467.8,257.4 472.8,256.8 477.7,256.3 482.6,255.8 487.5,255.4 492.4,255.0 497.3,254.6 502.2,254.3 507.1,254.0 512.1,253.6 517.0,253.3 521.9,252.9 526.8,252.6" fill="none" stroke="#bcbd22" stroke-width="1.3" stroke-linejoin="round" stroke-linecap="butt" />
<polyline points="335.2,267.4 340.1,267.2 345.0,267.1 349.9,266.9 354.9,266.7 359.8,266.6 364.7,266.4 369.6,266.2 374.5,266.1 379.4,265.9 384.3,265.7 389.2,265.5 394.2,265.3 399.1,265.1 404.0,264.8 408.9,264.6 413.8,264.4 418.7,264.2 423.6,263.6 428.5,262.7 433.5,261.9 438.4,261.1 443.3,260.5 448.2,260.0 453.1,259.5 458.0,259.0 462.9,258.5 467.8,257.9 472.8,257.4 477.7,256.9 482.6,256.5 487.5,256.1 492.4,255.7 497.3,255.3 502.2,255.0 507.1,254.7 512.1,254.4 517.0,254.1 521.9,253.8 526.8,253.5" fill="none" stroke="#17becf" stroke-width="1.3" stroke-linejoin="round" stroke-linecap="butt" />
<polyline points="335.2,267.4 340.1,267.3 345.0,267.1 349.9,267.0 354.9,266.8 359.8,266.7 364.7,266.5 369.6,266.4 374.5,266.2 379.4,266.1 384.3,265.9 389.2,265.7 394.2,265.5 399.1,265.3 404.0,265.1 408.9,264.9 413.8,264.6 418.7,264.4 423.6,263.8 428.5,263.0 433.5,262.3 438.4,261.5 443.3,260.9 448.2,260.4 453.1,259.9 458.0,259.5 462.9,259.0 467.8,258.5 472.8,258.0 477.7,257.5 482.6,257.1 487.5,256.7 492.4,256.4 497.3,256.1 502.2,255.8 507.1,255.5 512.1,255.2 517.0,254.9 521.9,254.6 526.8,254.4" fill="none" stroke="#8c564b" stroke-width="1.3" stroke-linejoin="round" stroke-linecap="butt" />
<polyline points="335.2,267.5 340.1,267.3 345.0,267.2 349.9,267.1 354.9,266.9 359.8,266.8 364.7,266.7 369.6,266.5 374.5,266.4 379.4,266.3 384.3,266.1 389.2,265.9 394.2,265.7 399.1,265.5 404.0,265.3 408.9,265.1 413.8,264.9 418.7,264.7 423.6,264.1 428.5,263.3 433.5,262.6 438.4,261.8 443.3,261.3 448.2,260.8 453.1,260.4 458.0,259.9 462.9,259.5 467.8,259.1 472.8,258.6 477.7,258.2 482.6,257.8 487.5,257.4 492.4,257.1 497.3,256.8 502.2,256.5 507.1,256.3 512.1,256.0 517.0,255.7 521.9,255.5 526.8,255.2" fill="none" stroke="#7f7f7f" stroke-width="1.3" stroke-linejoin="round" stroke-linecap="butt" />
<polyline points="335.2,267.5 340.1,267.4 345.0,267.3 349.9,267.1 354.9,267.0 359.8,266.9 364.7,266.8 369.6,266.7 374.5,266.5 379.4,266.4 384.3,266.2 389.2,266.1 394.2,265.9 399.1,265.7 404.0,265.5 408.9,265.3 413.8,265.1 418.7,264.9 423.6,264.3 428.5,263.6 433.5,262.9 438.4,262.2 443.3,261.7 448.2,261.3 453.1,260.9 458.0,260.4 462.9,260.0 467.8,259.6 472.8,259.2 477.7,258.8 482.6,258.4 487.5,258.1 492.4,257.7 497.3,257.5 502.2,257.2 507.1,257.0 512.1,256.8 517.0,256.6 521.9,256.4 526.8,256.1" fill="none" stroke="#d62728" stroke-width="1.3" stroke-linejoin="round" stroke-linecap="butt" />
<polyline points="335.2,267.5 340.1,267.4 345.0,267.3 349.9,267.2 354.9,267.1 359.8,267.0 364.7,266.9 369.6,266.8 374.5,266.7 379.4,266.6 384.3,266.4 389.2,266.2 394.2,266.1 399.1,265.9 404.0,265.7 408.9,265.5 413.8,265.3 418.7,265.1 423.6,264.6 428.5,263.9 433.5,263.2 438.4,262.5 443.3,262.1 448.2,261.7 453.1,261.3 458.0,260.9 462.9,260.5 467.8,260.2 472.8,259.8 477.7,259.4 482.6,259.1 487.5,258.7 492.4,258.4 497.3,258.2 502.2,258.0 507.1,257.8 512.1,257.6 517.0,257.4 521.9,257.2 526.8,257.0" fill="none" stroke="#9467bd" stroke-width="1.3" stroke-linejoin="round" stroke-linecap="butt" />
<polyline points="335.2,267.5 340.1,267.4 345.0,267.4 349.9,267.3 354.9,267.2 359.8,267.1 364.7,267.0 369.6,266.9 374.5,266.9 379.4,266.8 384.3,266.6 389.2,266.4 394.2,266.3 399.1,266.1 404.0,265.9 408.9,265.7 413.8,265.5 418.7,265.4 423.6,264.8 428.5,264.2 433.5,263.5 438.4,262.9 443.3,262.5 448.2,262.1 453.1,261.8 458.0,261.4 462.9,261.1 467.8,260.7 472.8,260.4 477.7,260.0 482.6,259.7 487.5,259.4 492.4,259.1 497.3,258.9 502.2,258.7 507.1,258.5 512.1,258.4 517.0,258.2 521.9,258.1 526.8,257.9" fill="none" stroke="#2ca02c" stroke-width="1.3" stroke-linejoin="round" stroke-linecap="butt" />
<polyline points="335.2,267.6 340.1,267.5 345.0,267.4 349.9,267.4 354.9,267.3 359.8,267.2 364.7,267.2 369.6,267.1 374.5,267.0 379.4,267.0 384.3,266.8 389.2,266.6 394.2,266.4 399.1,266.3 404.0,266.1 408.9,265.9 413.8,265.8 418.7,265.6 423.6,265.1 428.5,264.5 433.5,263.9 438.4,263.3 443.3,262.9 448.2,262.5 453.1,262.2 458.0,261.9 462.9,261.6 467.8,261.3 472.8,261.0 477.7,260.6 482.6,260.3 487.5,260.1 492.4,259.8 497.3,259.6 502.2,259.4 507.1,259.3 512.1,259.2 517.0,259.1 521.9,258.9 526.8,258.8" fill="none" stroke="#e377c2" stroke-width="1.3" stroke-linejoin="round" stroke-linecap="butt" />
<polyline points="335.2,267.6 340.1,267.5 345.0,267.5 349.9,267.4 354.9,267.4 359.8,267.3 364.7,267.3 369.6,267.2 374.5,267.2 379.4,267.1 384.3,267.0 389.2,266.8 394.2,266.6 399.1,266.5 404.0,266.3 408.9,266.1 413.8,266.0 418.7,265.8 423.6,265.3 428.5,264.8 433.5,264.2 438.4,263.6 443.3,263.2 448.2,263.0 453.1,262.7 458.0,262.4 462.9,262.1 467.8,261.8 472.8,261.5 477.7,261.3 482.6,261.0 487.5,260.7 492.4,260.5 497.3,260.3 502.2,260.2 507.1,260.1 512.1,260.0 517.0,259.9 521.9,259.8 526.8,259.7" fill="none" stroke="#1f77b4" stroke-width="1.3" stroke-linejoin="round" stroke-linecap="butt" />
<polyline points="335.2,267.6 340.1,267.6 345.0,267.5 349.9,267.5 354.9,267.5 359.8,267.4 364.7,267.4 369.6,267.4 374.5,267.3 379.4,267.3 384.3,267.2 389.2,267.0 394.2,266.8 399.1,266.7 404.0,266.5 408.9,266.4 413.8,266.2 418.7,266.0 423.6,265.6 428.5,265.1 433.5,264.5 438.4,264.0 443.3,263.6 448.2,263.4 453.1,263.1 458.0,262.9 462.9,262.6 467.8,262.4 472.8,262.1 477.7,261.9 482.6,261.6 487.5,261.4 492.4,261.1 497.3,261.0 502.2,260.9 507.1,260.8 512.1,260.8 517.0,260.7 521.9,260.7 526.8,260.6" fill="none" stroke="#bcbd22" stroke-width="1.3" stroke-linejoin="round" stroke-linecap="butt" />
<polyline points="335.2,267.5 336.2,267.5 337.2,267.4 338.2,267.4 339.2,267.4 340.2,267.3 341.2,267.3 342.2,267.2 343.2,267.2 344.2,267.1 345.2,267.1 346.2,267.1 347.2,267.0 348.2,267.0 349.2,266.9 350.2,266.8 351.2,266.8 352.2,266.7 353.2,266.7 354.2,266.6 355.2,266.6 356.2,266.5 357.2,266.4 358.2,266.4 359.2,266.3 360.2,266.3 361.2,266.2 362.2,266.1 363.2,266.1 364.2,266.0 365.2,265.9 366.2,265.9 367.2,265.8 368.2,265.7 369.2,265.6 370.2,265.6 371.2,265.5 372.2,265.4 373.2,265.3 374.2,265.3 375.2,265.2 376.2,265.1 377.2,265.0 378.2,264.9 379.2,264.9 380.2,264.8 381.2,264.7 382.2,264.6 383.2,264.5 384.2,264.4 385.2,264.4 386.2,264.3 387.2,264.2 388.2,264.1 389.2,264.0 390.2,263.9 391.2,263.8 392.2,263.7 393.2,263.7 394.2,263.6 395.2,263.5 396.2,263.4 397.2,263.3 398.2,263.2 399.2,263.1 400.2,263.0 401.2,262.9 402.2,262.8 403.2,262.7 404.2,262.6 405.2,262.5 406.2,262.3 407.2,262.2 408.2,262.1 409.2,262.0 410.2,261.9 411.2,261.7 412.2,261.6 413.2,261.5 414.2,261.4 415.2,261.2 416.2,261.1 417.2,261.0 418.2,260.8 419.2,260.7 420.2,260.5 421.2,260.4 422.2,260.3 423.2,260.1 424.2,260.0 425.2,259.8 426.2,259.7 427.2,259.5 428.2,259.4 429.2,259.2 430.2,259.1 431.2,258.9 432.2,258.8 433.2,258.6 434.2,258.5 435.2,258.3 436.2,258.2 437.2,258.0 438.2,257.9 439.2,257.7 440.2,257.6 441.2,257.4 442.2,257.2 443.2,257.1 444.2,256.9 445.2,256.8 446.2,256.6 447.2,256.5 448.2,256.3 449.2,256.2 450.2,256.0 451.2,255.8 452.2,255.7 453.2,255.5 454.2,255.4 455.2,255.2 456.2,255.1 457.2,254.9 458.2,254.8 459.2,254.6 460.2,254.5 461.2,254.3 462.2,254.2 463.2,254.0 464.2,253.9 465.2,253.7 466.2,253.6 467.2,253.4 468.2,253.3 469.2,253.1 470.2,253.0 471.2,252.8 472.2,252.7 473.2,252.5 474.2,252.4 475.2,252.2 476.2,252.0 477.2,251.9 478.2,251.7 479.2,251.5 480.2,251.4 481.2,251.2 482.2,251.0 483.2,250.8 484.2,250.7 485.2,250.5 486.2,250.3 487.2,250.1 488.2,249.9 489.2,249.7 490.2,249.5 491.2,249.2 492.2,249.0 493.2,248.8 494.2,248.5 495.2,248.2 496.2,247.9 497.2,247.6 498.2,247.2 499.2,246.8 500.2,246.4 501.2,245.9 502.2,245.5 503.2,245.0 504.2,244.5 505.2,244.0 506.2,243.5 507.2,243.1 508.2,242.7 509.2,242.3 510.2,241.9 511.2,241.6 512.2,241.3 513.2,241.0 514.2,240.6 515.2,240.3 516.2,240.0 517.2,239.7 518.2,239.4 519.2,239.2 520.2,238.9 521.2,238.6 522.2,238.4 523.2,238.2 524.2,237.9 525.2,237.7 526.2,237.5 526.8,237.4" fill="none" stroke="#9467bd" stroke-width="1.5" stroke-linejoin="round" stroke-linecap="butt" />
<polyline points="335.2,267.5 336.2,267.5 337.2,267.5 338.2,267.5 339.2,267.4 340.2,267.4 341.2,267.4 342.2,267.4 343.2,267.4 344.2,267.3 345.2,267.3 346.2,267.3 347.2,267.3 348.2,267.2 349.2,267.2 350.2,267.2 351.2,267.1 352.2,267.1 353.2,267.0 354.2,267.0 355.2,267.0 356.2,266.9 357.2,266.9 358.2,266.8 359.2,266.8 360.2,266.7 361.2,266.7 362.2,266.6 363.2,266.6 364.2,266.5 365.2,266.4 366.2,266.4 367.2,266.3 368.2,266.3 369.2,266.2 370.2,266.2 371.2,266.1 372.2,266.0 373.2,266.0 374.2,265.9 375.2,265.8 376.2,265.8 377.2,265.7 378.2,265.6 379.2,265.6 380.2,265.5 381.2,265.4 382.2,265.3 383.2,265.3 384.2,265.2 385.2,265.1 386.2,265.1 387.2,265.0 388.2,264.9 389.2,264.8 390.2,264.8 391.2,264.7 392.2,264.6 393.2,264.5 394.2,264.5 395.2,264.4 396.2,264.3 397.2,264.2 398.2,264.1 399.2,264.1 400.2,264.0 401.2,263.9 402.2,263.8 403.2,263.7 404.2,263.6 405.2,263.5 406.2,263.4 407.2,263.3 408.2,263.2 409.2,263.1 410.2,263.0 411.2,262.9 412.2,262.8 413.2,262.7 414.2,262.6 415.2,262.4 416.2,262.3 417.2,262.2 418.2,262.0 419.2,261.9 420.2,261.8 421.2,261.6 422.2,261.5 423.2,261.3 424.2,261.2 425.2,261.1 426.2,260.9 427.2,260.8 428.2,260.6 429.2,260.4 430.2,260.3 431.2,260.1 432.2,260.0 433.2,259.8 434.2,259.6 435.2,259.5 436.2,259.3 437.2,259.2 438.2,259.0 439.2,258.8 440.2,258.6 441.2,258.5 442.2,258.3 443.2,258.1 444.2,258.0 445.2,257.8 446.2,257.6 447.2,257.4 448.2,257.2 449.2,257.1 450.2,256.9 451.2,256.7 452.2,256.5 453.2,256.4 454.2,256.2 455.2,256.0 456.2,255.8 457.2,255.6 458.2,255.5 459.2,255.3 460.2,255.1 461.2,254.9 462.2,254.7 463.2,254.6 464.2,254.4 465.2,254.2 466.2,254.0 467.2,253.8 468.2,253.7 469.2,253.5 470.2,253.3 471.2,253.1 472.2,253.0 473.2,252.8 474.2,252.6 475.2,252.5 476.2,252.3 477.2,252.1 478.2,252.0 479.2,251.8 480.2,251.6 481.2,251.5 482.2,251.3 483.2,251.2 484.2,251.0 485.2,250.8 486.2,250.7 487.2,250.5 488.2,250.4 489.2,250.2 490.2,250.1 491.2,249.9 492.2,249.7 493.2,249.5 494.2,249.4 495.2,249.2 496.2,249.0 497.2,248.7 498.2,248.5 499.2,248.3 500.2,248.1 501.2,247.8 502.2,247.6 503.2,247.3 504.2,247.1 505.2,246.8 506.2,246.5 507.2,246.2 508.2,246.0 509.2,245.7 510.2,245.4 511.2,245.1 512.2,244.7 513.2,244.4 514.2,244.1 515.2,243.8 516.2,243.4 517.2,243.1 518.2,242.8 519.2,242.4 520.2,242.0 521.2,241.7 522.2,241.3 523.2,240.9 524.2,240.5 525.2,240.1 526.2,239.7 526.8,239.5" fill="none" stroke="#e377c2" stroke-width="1.5" stroke-linejoin="round" stroke-linecap="butt" />
<polyline points="335.2,267.5 336.2,267.5 337.2,267.5 338.2,267.5 339.2,267.5 340.2,267.5 341.2,267.5 342.2,267.5 343.2,267.5 344.2,267.4 345.2,267.4 346.2,267.4 347.2,267.4 348.2,267.4 349.2,267.4 350.2,267.4 351.2,267.3 352.2,267.3 353.2,267.3 354.2,267.3 355.2,267.3 356.2,267.2 357.2,267.2 358.2,267.2 359.2,267.2 360.2,267.1 361.2,267.1 362.2,267.1 363.2,267.0 364.2,267.0 365.2,267.0 366.2,266.9 367.2,266.9 368.2,266.9 369.2,266.8 370.2,266.8 371.2,266.7 372.2,266.7 373.2,266.7 374.2,266.6 375.2,266.6 376.2,266.5 377.2,266.5 378.2,266.5 379.2,266.4 380.2,266.4 381.2,266.3 382.2,266.3 383.2,266.2 384.2,266.2 385.2,266.1 386.2,266.1 387.2,266.0 388.2,266.0 389.2,265.9 390.2,265.9 391.2,265.8 392.2,265.7 393.2,265.7 394.2,265.6 395.2,265.6 396.2,265.5 397.2,265.5 398.2,265.4 399.2,265.3 400.2,265.3 401.2,265.2 402.2,265.2 403.2,265.1 404.2,265.0 405.2,265.0 406.2,264.9 407.2,264.9 408.2,264.8 409.2,264.7 410.2,264.7 411.2,264.6 412.2,264.5 413.2,264.5 414.2,264.4 415.2,264.3 416.2,264.3 417.2,264.2 418.2,264.1 419.2,264.1 420.2,264.0 421.2,263.9 422.2,263.8 423.2,263.8 424.2,263.7 425.2,263.6 426.2,263.5 427.2,263.4 428.2,263.3 429.2,263.1 430.2,263.0 431.2,262.9 432.2,262.8 433.2,262.6 434.2,262.5 435.2,262.4 436.2,262.2 437.2,262.1 438.2,261.9 439.2,261.7 440.2,261.6 441.2,261.4 442.2,261.3 443.2,261.1 444.2,260.9 445.2,260.7 446.2,260.6 447.2,260.4 448.2,260.2 449.2,260.0 450.2,259.8 451.2,259.6 452.2,259.4 453.2,259.2 454.2,259.0 455.2,258.8 456.2,258.6 457.2,258.4 458.2,258.2 459.2,258.0 460.2,257.8 461.2,257.6 462.2,257.4 463.2,257.2 464.2,257.0 465.2,256.8 466.2,256.6 467.2,256.4 468.2,256.2 469.2,255.9 470.2,255.7 471.2,255.5 472.2,255.3 473.2,255.1 474.2,254.9 475.2,254.7 476.2,254.5 477.2,254.3 478.2,254.1 479.2,253.9 480.2,253.7 481.2,253.5 482.2,253.3 483.2,253.0 484.2,252.8 485.2,252.6 486.2,252.3 487.2,252.1 488.2,251.8 489.2,251.6 490.2,251.3 491.2,251.0 492.2,250.8 493.2,250.5 494.2,250.2 495.2,249.9 496.2,249.7 497.2,249.4 498.2,249.1 499.2,248.9 500.2,248.6 501.2,248.4 502.2,248.2 503.2,247.9 504.2,247.7 505.2,247.5 506.2,247.3 507.2,247.1 508.2,246.9 509.2,246.8 510.2,246.6 511.2,246.5 512.2,246.3 513.2,246.2 514.2,246.1 515.2,246.0 516.2,245.9 517.2,245.8 518.2,245.7 519.2,245.6 520.2,245.5 521.2,245.4 522.2,245.3 523.2,245.2 524.2,245.1 525.2,245.1 526.2,245.0 526.8,245.0" fill="none" stroke="#bcbd22" stroke-width="1.4" stroke-linejoin="round" stroke-linecap="butt" />
<polyline points="335.2,267.5 336.2,267.5 337.2,267.5 338.2,267.5 339.2,267.5 340.2,267.5 341.2,267.5 342.2,267.5 343.2,267.5 344.2,267.5 345.2,267.4 346.2,267.4 347.2,267.4 348.2,267.4 349.2,267.4 350.2,267.4 351.2,267.4 352.2,267.3 353.2,267.3 354.2,267.3 355.2,267.3 356.2,267.3 357.2,267.2 358.2,267.2 359.2,267.2 360.2,267.2 361.2,267.2 362.2,267.1 363.2,267.1 364.2,267.1 365.2,267.0 366.2,267.0 367.2,267.0 368.2,267.0 369.2,266.9 370.2,266.9 371.2,266.9 372.2,266.8 373.2,266.8 374.2,266.8 375.2,266.7 376.2,266.7 377.2,266.6 378.2,266.6 379.2,266.6 380.2,266.5 381.2,266.5 382.2,266.4 383.2,266.4 384.2,266.4 385.2,266.3 386.2,266.3 387.2,266.2 388.2,266.2 389.2,266.1 390.2,266.1 391.2,266.0 392.2,266.0 393.2,265.9 394.2,265.9 395.2,265.9 396.2,265.8 397.2,265.8 398.2,265.7 399.2,265.7 400.2,265.6 401.2,265.5 402.2,265.5 403.2,265.4 404.2,265.4 405.2,265.3 406.2,265.3 407.2,265.2 408.2,265.2 409.2,265.1 410.2,265.1 411.2,265.0 412.2,265.0 413.2,264.9 414.2,264.8 415.2,264.8 416.2,264.7 417.2,264.7 418.2,264.6 419.2,264.5 420.2,264.5 421.2,264.4 422.2,264.4 423.2,264.3 424.2,264.2 425.2,264.1 426.2,264.0 427.2,263.9 428.2,263.8 429.2,263.7 430.2,263.6 431.2,263.5 432.2,263.4 433.2,263.3 434.2,263.2 435.2,263.0 436.2,262.9 437.2,262.8 438.2,262.6 439.2,262.5 440.2,262.4 441.2,262.2 442.2,262.1 443.2,261.9 444.2,261.8 445.2,261.6 446.2,261.5 447.2,261.3 448.2,261.1 449.2,261.0 450.2,260.8 451.2,260.6 452.2,260.5 453.2,260.3 454.2,260.1 455.2,260.0 456.2,259.8 457.2,259.6 458.2,259.4 459.2,259.3 460.2,259.1 461.2,258.9 462.2,258.7 463.2,258.5 464.2,258.4 465.2,258.2 466.2,258.0 467.2,257.8 468.2,257.7 469.2,257.5 470.2,257.3 471.2,257.1 472.2,257.0 473.2,256.8 474.2,256.6 475.2,256.4 476.2,256.3 477.2,256.1 478.2,255.9 479.2,255.8 480.2,255.6 481.2,255.5 482.2,255.3 483.2,255.2 484.2,255.0 485.2,254.9 486.2,254.7 487.2,254.6 488.2,254.4 489.2,254.3 490.2,254.1 491.2,254.0 492.2,253.8 493.2,253.7 494.2,253.5 495.2,253.4 496.2,253.2 497.2,253.0 498.2,252.9 499.2,252.7 500.2,252.6 501.2,252.4 502.2,252.2 503.2,252.0 504.2,251.9 505.2,251.7 506.2,251.5 507.2,251.3 508.2,251.1 509.2,250.9 510.2,250.7 511.2,250.5 512.2,250.2 513.2,250.0 514.2,249.7 515.2,249.5 516.2,249.2 517.2,248.9 518.2,248.6 519.2,248.3 520.2,248.0 521.2,247.7 522.2,247.3 523.2,247.0 524.2,246.7 525.2,246.3 526.2,246.0 526.8,245.8" fill="none" stroke="#1f77b4" stroke-width="1.4" stroke-linejoin="round" stroke-linecap="butt" />
<polyline points="335.2,267.5 336.2,267.5 337.2,267.5 338.2,267.5 339.2,267.5 340.2,267.5 341.2,267.5 342.2,267.5 343.2,267.5 344.2,267.5 345.2,267.5 346.2,267.5 347.2,267.4 348.2,267.4 349.2,267.4 350.2,267.4 351.2,267.4 352.2,267.4 353.2,267.4 354.2,267.4 355.2,267.4 356.2,267.3 357.2,267.3 358.2,267.3 359.2,267.3 360.2,267.3 361.2,267.3 362.2,267.2 363.2,267.2 364.2,267.2 365.2,267.2 366.2,267.1 367.2,267.1 368.2,267.1 369.2,267.1 370.2,267.1 371.2,267.0 372.2,267.0 373.2,267.0 374.2,266.9 375.2,266.9 376.2,266.9 377.2,266.9 378.2,266.8 379.2,266.8 380.2,266.8 381.2,266.7 382.2,266.7 383.2,266.7 384.2,266.6 385.2,266.6 386.2,266.6 387.2,266.5 388.2,266.5 389.2,266.5 390.2,266.4 391.2,266.4 392.2,266.4 393.2,266.3 394.2,266.3 395.2,266.2 396.2,266.2 397.2,266.2 398.2,266.1 399.2,266.1 400.2,266.0 401.2,266.0 402.2,265.9 403.2,265.9 404.2,265.8 405.2,265.8 406.2,265.8 407.2,265.7 408.2,265.7 409.2,265.6 410.2,265.6 411.2,265.5 412.2,265.5 413.2,265.4 414.2,265.4 415.2,265.3 416.2,265.3 417.2,265.2 418.2,265.2 419.2,265.1 420.2,265.1 421.2,265.0 422.2,264.9 423.2,264.9 424.2,264.8 425.2,264.8 426.2,264.7 427.2,264.7 428.2,264.6 429.2,264.5 430.2,264.5 431.2,264.4 432.2,264.3 433.2,264.2 434.2,264.1 435.2,264.0 436.2,263.9 437.2,263.8 438.2,263.6 439.2,263.5 440.2,263.3 441.2,263.1 442.2,262.9 443.2,262.8 444.2,262.6 445.2,262.4 446.2,262.1 447.2,261.9 448.2,261.7 449.2,261.5 450.2,261.3 451.2,261.0 452.2,260.8 453.2,260.5 454.2,260.3 455.2,260.1 456.2,259.8 457.2,259.6 458.2,259.3 459.2,259.1 460.2,258.8 461.2,258.6 462.2,258.3 463.2,258.1 464.2,257.8 465.2,257.6 466.2,257.4 467.2,257.1 468.2,256.9 469.2,256.7 470.2,256.4 471.2,256.2 472.2,256.0 473.2,255.8 474.2,255.6 475.2,255.4 476.2,255.3 477.2,255.1 478.2,254.9 479.2,254.8 480.2,254.6 481.2,254.5 482.2,254.3 483.2,254.2 484.2,254.1 485.2,253.9 486.2,253.8 487.2,253.7 488.2,253.6 489.2,253.4 490.2,253.3 491.2,253.2 492.2,253.1 493.2,252.9 494.2,252.8 495.2,252.7 496.2,252.6 497.2,252.5 498.2,252.3 499.2,252.2 500.2,252.1 501.2,252.0 502.2,251.9 503.2,251.8 504.2,251.7 505.2,251.6 506.2,251.5 507.2,251.4 508.2,251.3 509.2,251.2 510.2,251.1 511.2,251.0 512.2,250.9 513.2,250.8 514.2,250.7 515.2,250.6 516.2,250.6 517.2,250.5 518.2,250.4 519.2,250.3 520.2,250.2 521.2,250.2 522.2,250.1 523.2,250.0 524.2,250.0 525.2,249.9 526.2,249.8 526.8,249.8" fill="none" stroke="#2ca02c" stroke-width="1.4" stroke-linejoin="round" stroke-linecap="butt" />
<polyline points="335.2,267.5 336.2,267.4 337.2,267.3 338.2,267.3 339.2,267.2 340.2,267.1 341.2,267.0 342.2,266.9 343.2,266.9 344.2,266.8 345.2,266.7 346.2,266.6 347.2,266.5 348.2,266.4 349.2,266.4 350.2,266.3 351.2,266.2 352.2,266.1 353.2,266.0 354.2,265.9 355.2,265.8 356.2,265.7 357.2,265.7 358.2,265.6 359.2,265.5 360.2,265.4 361.2,265.3 362.2,265.2 363.2,265.1 364.2,265.0 365.2,264.9 366.2,264.8 367.2,264.7 368.2,264.6 369.2,264.6 370.2,264.5 371.2,264.4 372.2,264.3 373.2,264.2 374.2,264.1 375.2,264.0 376.2,263.9 377.2,263.8 378.2,263.7 379.2,263.6 380.2,263.5 381.2,263.4 382.2,263.3 383.2,263.2 384.2,263.1 385.2,263.0 386.2,262.9 387.2,262.8 388.2,262.7 389.2,262.6 390.2,262.5 391.2,262.4 392.2,262.3 393.2,262.2 394.2,262.1 395.2,262.0 396.2,261.9 397.2,261.8 398.2,261.7 399.2,261.6 400.2,261.5 401.2,261.3 402.2,261.2 403.2,261.1 404.2,261.0 405.2,260.9 406.2,260.8 407.2,260.7 408.2,260.6 409.2,260.5 410.2,260.3 411.2,260.2 412.2,260.1 413.2,260.0 414.2,259.9 415.2,259.8 416.2,259.6 417.2,259.5 418.2,259.4 419.2,259.3 420.2,259.2 421.2,259.1 422.2,258.9 423.2,258.8 424.2,258.7 425.2,258.6 426.2,258.5 427.2,258.3 428.2,258.2 429.2,258.1 430.2,258.0 431.2,257.9 432.2,257.7 433.2,257.6 434.2,257.5 435.2,257.4 436.2,257.3 437.2,257.2 438.2,257.1 439.2,256.9 440.2,256.8 441.2,256.7 442.2,256.6 443.2,256.5 444.2,256.3 445.2,256.2 446.2,256.1 447.2,255.9 448.2,255.8 449.2,255.6 450.2,255.5 451.2,255.3 452.2,255.1 453.2,255.0 454.2,254.8 455.2,254.6 456.2,254.4 457.2,254.2 458.2,254.0 459.2,253.8 460.2,253.6 461.2,253.4 462.2,253.1 463.2,252.9 464.2,252.6 465.2,252.4 466.2,252.1 467.2,251.8 468.2,251.5 469.2,251.2 470.2,250.9 471.2,250.6 472.2,250.1 473.2,249.7 474.2,249.1 475.2,248.6 476.2,248.1 477.2,247.6 478.2,247.1 479.2,246.6 480.2,246.2 481.2,245.9 482.2,245.7 483.2,245.5 484.2,245.2 485.2,245.0 486.2,244.9 487.2,244.7 488.2,244.5 489.2,244.4 490.2,244.2 491.2,244.1 492.2,244.0 493.2,243.9 494.2,243.8 495.2,243.6 496.2,243.5 497.2,243.2 498.2,242.8 499.2,242.4 500.2,241.9 501.2,241.4 502.2,240.8 503.2,240.2 504.2,239.5 505.2,238.9 506.2,238.3 507.2,237.7 508.2,237.2 509.2,236.7 510.2,236.1 511.2,235.6 512.2,235.0 513.2,234.5 514.2,234.0 515.2,233.4 516.2,232.9 517.2,232.3 518.2,231.8 519.2,231.2 520.2,230.6 521.2,230.1 522.2,229.5 523.2,229.0 524.2,228.4 525.2,227.8 526.2,227.2 526.8,226.9" fill="none" stroke="#2ca02c" stroke-width="1.5" stroke-linejoin="round" stroke-linecap="butt" />
<polyline points="335.2,267.5 336.2,267.4 337.2,267.3 338.2,267.2 339.2,267.1 340.2,266.9 341.2,266.8 342.2,266.7 343.2,266.6 344.2,266.5 345.2,266.4 346.2,266.3 347.2,266.2 348.2,266.1 349.2,266.0 350.2,265.9 351.2,265.7 352.2,265.6 353.2,265.5 354.2,265.4 355.2,265.3 356.2,265.2 357.2,265.1 358.2,265.0 359.2,264.9 360.2,264.8 361.2,264.7 362.2,264.6 363.2,264.5 364.2,264.4 365.2,264.3 366.2,264.2 367.2,264.1 368.2,264.0 369.2,263.9 370.2,263.8 371.2,263.7 372.2,263.6 373.2,263.5 374.2,263.4 375.2,263.3 376.2,263.2 377.2,263.1 378.2,263.0 379.2,262.9 380.2,262.8 381.2,262.7 382.2,262.6 383.2,262.5 384.2,262.4 385.2,262.3 386.2,262.2 387.2,262.1 388.2,262.0 389.2,261.9 390.2,261.8 391.2,261.7 392.2,261.6 393.2,261.5 394.2,261.4 395.2,261.3 396.2,261.2 397.2,261.1 398.2,261.0 399.2,260.9 400.2,260.8 401.2,260.7 402.2,260.7 403.2,260.6 404.2,260.5 405.2,260.4 406.2,260.3 407.2,260.2 408.2,260.2 409.2,260.1 410.2,260.0 411.2,259.9 412.2,259.8 413.2,259.7 414.2,259.6 415.2,259.5 416.2,259.4 417.2,259.3 418.2,259.2 419.2,259.1 420.2,259.0 421.2,258.9 422.2,258.7 423.2,258.6 424.2,258.5 425.2,258.3 426.2,258.2 427.2,258.1 428.2,257.9 429.2,257.8 430.2,257.6 431.2,257.5 432.2,257.3 433.2,257.2 434.2,257.0 435.2,256.8 436.2,256.7 437.2,256.5 438.2,256.3 439.2,256.1 440.2,255.9 441.2,255.8 442.2,255.6 443.2,255.4 444.2,255.2 445.2,255.0 446.2,254.7 447.2,254.5 448.2,254.3 449.2,254.0 450.2,253.8 451.2,253.5 452.2,253.2 453.2,252.9 454.2,252.6 455.2,252.3 456.2,252.1 457.2,251.8 458.2,251.5 459.2,251.2 460.2,250.9 461.2,250.7 462.2,250.4 463.2,250.2 464.2,250.0 465.2,249.7 466.2,249.5 467.2,249.2 468.2,249.0 469.2,248.7 470.2,248.4 471.2,248.1 472.2,247.8 473.2,247.4 474.2,247.1 475.2,246.6 476.2,246.2 477.2,245.7 478.2,245.2 479.2,244.6 480.2,244.0 481.2,243.4 482.2,242.5 483.2,241.4 484.2,240.3 485.2,239.3 486.2,238.3 487.2,237.5 488.2,236.7 489.2,235.9 490.2,235.2 491.2,234.5 492.2,233.9 493.2,233.2 494.2,232.6 495.2,232.1 496.2,231.8 497.2,231.5 498.2,231.3 499.2,231.1 500.2,231.0 501.2,230.8 502.2,230.7 503.2,230.6 504.2,230.5 505.2,230.5 506.2,230.5 507.2,230.4 508.2,230.4 509.2,230.4 510.2,230.4 511.2,230.4 512.2,230.4 513.2,230.4 514.2,230.3 515.2,230.3 516.2,230.2 517.2,230.0 518.2,229.8 519.2,229.5 520.2,229.1 521.2,228.7 522.2,228.2 523.2,227.7 524.2,227.2 525.2,226.6 526.2,226.1 526.8,225.7" fill="none" stroke="#1f77b4" stroke-width="1.5" stroke-linejoin="round" stroke-linecap="butt" />
<polyline points="335.2,267.5 336.2,267.5 337.2,267.5 338.2,267.5 339.2,267.5 340.2,267.5 341.2,267.4 342.2,267.4 343.2,267.4 344.2,267.3 345.2,267.3 346.2,267.3 347.2,267.2 348.2,267.2 349.2,267.1 350.2,267.1 351.2,267.0 352.2,267.0 353.2,266.9 354.2,266.8 355.2,266.8 356.2,266.7 357.2,266.6 358.2,266.5 359.2,266.5 360.2,266.4 361.2,266.3 362.2,266.2 363.2,266.1 364.2,266.0 365.2,265.9 366.2,265.8 367.2,265.7 368.2,265.6 369.2,265.5 370.2,265.4 371.2,265.3 372.2,265.2 373.2,265.1 374.2,265.0 375.2,264.9 376.2,264.8 377.2,264.6 378.2,264.5 379.2,264.4 380.2,264.3 381.2,264.1 382.2,264.0 383.2,263.9 384.2,263.8 385.2,263.6 386.2,263.5 387.2,263.4 388.2,263.2 389.2,263.1 390.2,263.0 391.2,262.8 392.2,262.7 393.2,262.5 394.2,262.4 395.2,262.3 396.2,262.1 397.2,261.9 398.2,261.7 399.2,261.5 400.2,261.3 401.2,261.0 402.2,260.8 403.2,260.5 404.2,260.2 405.2,259.9 406.2,259.6 407.2,259.4 408.2,259.1 409.2,258.8 410.2,258.5 411.2,258.2 412.2,257.9 413.2,257.6 414.2,257.4 415.2,257.1 416.2,256.9 417.2,256.7 418.2,256.5 419.2,256.3 420.2,256.1 421.2,255.9 422.2,255.8 423.2,255.6 424.2,255.5 425.2,255.3 426.2,255.2 427.2,255.0 428.2,254.9 429.2,254.7 430.2,254.6 431.2,254.5 432.2,254.3 433.2,254.2 434.2,254.0 435.2,253.9 436.2,253.7 437.2,253.5 438.2,253.3 439.2,253.2 440.2,253.0 441.2,252.8 442.2,252.5 443.2,252.3 444.2,252.1 445.2,251.9 446.2,251.6 447.2,251.4 448.2,251.1 449.2,250.9 450.2,250.6 451.2,250.3 452.2,250.0 453.2,249.6 454.2,249.3 455.2,248.9 456.2,248.5 457.2,248.1 458.2,247.6 459.2,247.0 460.2,246.5 461.2,245.9 462.2,245.3 463.2,244.6 464.2,244.0 465.2,243.4 466.2,242.7 467.2,241.9 468.2,241.0 469.2,240.2 470.2,239.4 471.2,238.6 472.2,237.9 473.2,237.4 474.2,236.9 475.2,236.5 476.2,236.1 477.2,235.8 478.2,235.5 479.2,235.2 480.2,235.0 481.2,234.8 482.2,234.6 483.2,234.4 484.2,234.3 485.2,234.1 486.2,234.0 487.2,233.8 488.2,233.6 489.2,233.5 490.2,233.3 491.2,233.1 492.2,232.9 493.2,232.7 494.2,232.5 495.2,232.2 496.2,231.9 497.2,231.6 498.2,231.1 499.2,230.5 500.2,229.9 501.2,229.1 502.2,228.4 503.2,227.5 504.2,226.7 505.2,225.8 506.2,224.8 507.2,223.8 508.2,222.6 509.2,221.3 510.2,219.8 511.2,218.3 512.2,216.8 513.2,215.1 514.2,213.4 515.2,211.6 516.2,209.7 517.2,207.5 518.2,205.3 519.2,203.0 520.2,200.8 521.2,198.8 522.2,196.8 523.2,194.8 524.2,192.9 525.2,191.0 526.2,189.1 526.8,188.0" fill="none" stroke="#bcbd22" stroke-width="1.6" stroke-linejoin="round" stroke-linecap="butt" />
<polyline points="335.2,267.5 336.2,267.3 337.2,267.2 338.2,267.0 339.2,266.9 340.2,266.7 341.2,266.5 342.2,266.4 343.2,266.2 344.2,266.1 345.2,265.9 346.2,265.7 347.2,265.6 348.2,265.4 349.2,265.3 350.2,265.1 351.2,265.0 352.2,264.8 353.2,264.7 354.2,264.5 355.2,264.4 356.2,264.2 357.2,264.1 358.2,263.9 359.2,263.8 360.2,263.6 361.2,263.5 362.2,263.3 363.2,263.2 364.2,263.0 365.2,262.9 366.2,262.8 367.2,262.6 368.2,262.5 369.2,262.3 370.2,262.2 371.2,262.0 372.2,261.9 373.2,261.8 374.2,261.6 375.2,261.5 376.2,261.3 377.2,261.2 378.2,261.1 379.2,260.9 380.2,260.8 381.2,260.6 382.2,260.5 383.2,260.4 384.2,260.2 385.2,260.1 386.2,260.0 387.2,259.8 388.2,259.7 389.2,259.6 390.2,259.4 391.2,259.3 392.2,259.2 393.2,259.0 394.2,258.9 395.2,258.8 396.2,258.6 397.2,258.5 398.2,258.4 399.2,258.3 400.2,258.2 401.2,258.1 402.2,258.0 403.2,257.9 404.2,257.8 405.2,257.7 406.2,257.6 407.2,257.5 408.2,257.4 409.2,257.3 410.2,257.2 411.2,257.1 412.2,257.0 413.2,256.8 414.2,256.7 415.2,256.5 416.2,256.3 417.2,256.2 418.2,256.0 419.2,255.7 420.2,255.4 421.2,255.0 422.2,254.6 423.2,254.1 424.2,253.6 425.2,253.1 426.2,252.6 427.2,252.0 428.2,251.5 429.2,250.9 430.2,250.4 431.2,249.8 432.2,249.2 433.2,248.5 434.2,247.8 435.2,247.1 436.2,246.5 437.2,245.9 438.2,245.3 439.2,244.8 440.2,244.4 441.2,244.1 442.2,243.8 443.2,243.5 444.2,243.3 445.2,243.1 446.2,242.9 447.2,242.7 448.2,242.5 449.2,242.3 450.2,242.1 451.2,242.0 452.2,241.8 453.2,241.7 454.2,241.5 455.2,241.4 456.2,241.2 457.2,241.1 458.2,241.0 459.2,240.9 460.2,240.7 461.2,240.6 462.2,240.5 463.2,240.4 464.2,240.3 465.2,240.1 466.2,240.0 467.2,239.7 468.2,239.4 469.2,239.0 470.2,238.6 471.2,238.0 472.2,237.5 473.2,236.9 474.2,236.1 475.2,235.1 476.2,234.0 477.2,232.8 478.2,231.5 479.2,230.2 480.2,228.9 481.2,227.6 482.2,226.1 483.2,224.6 484.2,223.0 485.2,221.3 486.2,219.7 487.2,217.9 488.2,216.0 489.2,214.0 490.2,212.0 491.2,210.0 492.2,207.9 493.2,205.8 494.2,203.7 495.2,201.6 496.2,199.6 497.2,197.6 498.2,195.5 499.2,193.4 500.2,191.4 501.2,189.3 502.2,187.3 503.2,185.3 504.2,183.3 505.2,181.4 506.2,179.6 507.2,177.9 508.2,176.1 509.2,174.4 510.2,172.7 511.2,171.0 512.2,169.4 513.2,167.9 514.2,166.4 515.2,165.0 516.2,163.8 517.2,162.5 518.2,161.3 519.2,160.2 520.2,159.1 521.2,158.0 522.2,157.0 523.2,156.0 524.2,155.1 525.2,154.2 526.2,153.4 526.8,153.0" fill="none" stroke="#e377c2" stroke-width="2.0" stroke-linejoin="round" stroke-linecap="butt" />
<polyline points="334.6,266.9 335.6,266.7 336.6,266.6 337.6,266.4 338.6,266.3 339.6,266.1 340.6,265.9 341.6,265.8 342.6,265.6 343.6,265.5 344.6,265.3 345.6,265.1 346.6,265.0 347.6,264.8 348.6,264.7 349.6,264.5 350.6,264.4 351.6,264.2 352.6,264.1 353.6,263.9 354.6,263.8 355.6,263.6 356.6,263.5 357.6,263.3 358.6,263.2 359.6,263.0 360.6,262.9 361.6,262.7 362.6,262.6 363.6,262.4 364.6,262.3 365.6,262.2 366.6,262.0 367.6,261.9 368.6,261.7 369.6,261.6 370.6,261.4 371.6,261.3 372.6,261.2 373.6,261.0 374.6,260.9 375.6,260.7 376.6,260.6 377.6,260.5 378.6,260.3 379.6,260.2 380.6,260.0 381.6,259.9 382.6,259.8 383.6,259.6 384.6,259.5 385.6,259.4 386.6,259.2 387.6,259.1 388.6,259.0 389.6,258.8 390.6,258.7 391.6,258.6 392.6,258.4 393.6,258.3 394.6,258.2 395.6,258.0 396.6,257.9 397.6,257.8 398.6,257.7 399.6,257.6 400.6,257.5 401.6,257.4 402.6,257.3 403.6,257.2 404.6,257.1 405.6,257.0 406.6,256.9 407.6,256.8 408.6,256.7 409.6,256.6 410.6,256.5 411.6,256.4 412.6,256.2 413.6,256.1 414.6,255.9 415.6,255.7 416.6,255.6 417.6,255.4 418.6,255.1 419.6,254.8 420.6,254.4 421.6,254.0 422.6,253.5 423.6,253.0 424.6,252.5 425.6,252.0 426.6,251.4 427.6,250.9 428.6,250.3 429.6,249.8 430.6,249.2 431.6,248.6 432.6,247.9 433.6,247.2 434.6,246.5 435.6,245.9 436.6,245.3 437.6,244.7 438.6,244.2 439.6,243.8 440.6,243.5 441.6,243.2 442.6,242.9 443.6,242.7 444.6,242.5 445.6,242.3 446.6,242.1 447.6,241.9 448.6,241.7 449.6,241.5 450.6,241.4 451.6,241.2 452.6,241.1 453.6,240.9 454.6,240.8 455.6,240.6 456.6,240.5 457.6,240.4 458.6,240.3 459.6,240.1 460.6,240.0 461.6,239.9 462.6,239.8 463.6,239.7 464.6,239.5 465.6,239.4 466.6,239.1 467.6,238.8 468.6,238.4 469.6,238.0 470.6,237.4 471.6,236.9 472.6,236.3 473.6,235.5 474.6,234.5 475.6,233.4 476.6,232.2 477.6,230.9 478.6,229.6 479.6,228.3 480.6,227.0 481.6,225.5 482.6,224.0 483.6,222.4 484.6,220.7 485.6,219.1 486.6,217.3 487.6,215.4 488.6,213.4 489.6,211.4 490.6,209.4 491.6,207.3 492.6,205.2 493.6,203.1 494.6,201.0 495.6,199.0 496.6,197.0 497.6,194.9 498.6,192.8 499.6,190.8 500.6,188.7 501.6,186.7 502.6,184.7 503.6,182.7 504.6,180.8 505.6,179.0 506.6,177.3 507.6,175.5 508.6,173.8 509.6,172.1 510.6,170.4 511.6,168.8 512.6,167.3 513.6,165.8 514.6,164.4 515.6,163.2 516.6,161.9 517.6,160.7 518.6,159.6 519.6,158.5 520.6,157.4 521.6,156.4 522.6,155.4 523.6,154.5 524.6,153.6 525.6,152.8 526.2,152.4" fill="none" stroke="#8c564b" stroke-width="0.9" stroke-linejoin="round" stroke-linecap="butt" />
<polyline points="335.2,267.5 336.2,267.3 337.2,267.1 338.2,266.8 339.2,266.5 340.2,266.2 341.2,265.9 342.2,265.6 343.2,265.2 344.2,264.8 345.2,264.4 346.2,263.9 347.2,263.5 348.2,263.1 349.2,262.6 350.2,262.2 351.2,261.7 352.2,261.2 353.2,260.8 354.2,260.5 355.2,260.2 356.2,260.0 357.2,259.8 358.2,259.6 359.2,259.5 360.2,259.3 361.2,259.2 362.2,259.1 363.2,259.0 364.2,258.9 365.2,258.8 366.2,258.8 367.2,258.7 368.2,258.7 369.2,258.7 370.2,258.6 371.2,258.6 372.2,258.6 373.2,258.5 374.2,258.5 375.2,258.5 376.2,258.5 377.2,258.5 378.2,258.4 379.2,258.4 380.2,258.4 381.2,258.4 382.2,258.3 383.2,258.3 384.2,258.2 385.2,258.2 386.2,258.1 387.2,257.9 388.2,257.7 389.2,257.4 390.2,257.0 391.2,256.6 392.2,256.2 393.2,255.8 394.2,255.4 395.2,254.9 396.2,254.4 397.2,253.9 398.2,253.3 399.2,252.7 400.0,252.2" fill="none" stroke="#2ca02c" stroke-width="2.0" stroke-linejoin="round" stroke-linecap="butt" />
<polyline points="335.2,267.5 336.2,267.3 337.2,267.1 338.2,266.8 339.2,266.5 340.2,266.2 341.2,265.9 342.2,265.6 343.2,265.2 344.2,264.8 345.2,264.4 346.2,263.9 347.2,263.5 348.2,263.1 349.2,262.6 350.2,262.2 351.2,261.7 352.2,261.2 353.2,260.8 354.2,260.5 355.2,260.2 356.2,260.0 357.2,259.8 358.2,259.6 359.2,259.5 360.2,259.3 361.2,259.2 362.2,259.1 363.2,259.0 364.2,258.9 365.2,258.8 366.2,258.8 367.2,258.7 368.2,258.7 369.2,258.7 370.2,258.6 371.2,258.6 372.2,258.6 373.2,258.5 374.2,258.5 375.2,258.5 376.2,258.5 377.2,258.5 378.2,258.4 379.2,258.4 380.2,258.4 381.2,258.4 382.2,258.3 383.2,258.3 384.2,258.2 385.2,258.2 386.2,258.1 387.2,257.9 388.2,257.7 389.2,257.4 390.2,257.0 391.2,256.6 392.2,256.2 393.2,255.8 394.2,255.4 395.2,255.0 396.2,254.5 397.2,254.0 398.2,253.4 399.2,252.8 400.2,252.1 401.2,251.2 402.2,250.1 403.2,249.0 404.2,247.8 405.2,246.5 406.2,245.2 407.2,243.8 408.2,242.1 409.2,240.1 410.2,237.7 411.2,235.2 412.2,232.7 413.2,230.1 414.2,227.5 415.2,225.0 416.2,222.7 417.2,220.5 418.2,218.3 419.2,216.2 420.2,214.1 421.2,212.1 422.2,210.1 423.2,208.1 424.2,206.2 425.2,204.3 426.2,202.5 427.2,200.6 428.2,198.7 429.2,196.7 430.2,194.8 431.2,192.9 432.2,191.0 433.2,189.1 434.2,187.2 435.2,185.4 436.2,183.7 437.2,181.9 438.2,180.1 439.2,178.4 440.2,176.6 441.2,174.9 442.2,173.3 443.2,171.8 444.2,170.3 445.2,169.0 446.2,167.8 447.2,166.7 448.2,165.6 449.2,164.7 450.2,163.7 451.2,162.9 452.2,162.0 453.2,161.2 454.2,160.4 455.2,159.6 456.2,158.8 457.2,158.1 458.2,157.3 459.2,156.6 460.2,155.8 461.2,155.1 462.2,154.5 463.2,153.8 464.2,153.2 465.2,152.6 466.2,152.1 467.2,151.6 468.2,151.1 469.2,150.6 470.2,150.2 471.2,149.7 472.2,149.3 473.2,149.0 474.2,148.6 475.2,148.3 476.2,147.9 477.2,147.6 478.2,147.4 479.2,147.1 480.2,146.8 481.2,146.6 482.2,146.3 483.2,146.1 484.2,145.9 485.2,145.7 486.2,145.6 487.2,145.4 488.2,145.3 489.2,145.1 490.2,145.0 491.2,144.9 492.2,144.8 493.2,144.7 494.2,144.6 495.2,144.5 496.2,144.5 497.2,144.4 498.2,144.4 499.2,144.4 500.2,144.3 501.2,144.3 502.2,144.3 503.2,144.2 504.2,144.2 505.2,144.2 506.2,144.1 507.2,144.1 508.2,144.1 509.2,144.0 510.2,144.0 511.2,144.0 512.2,144.0 513.2,143.9 514.2,143.9 515.2,143.9 516.2,143.9 517.2,143.9 518.2,143.9 519.2,143.8 520.2,143.8 521.2,143.8 522.2,143.8 523.2,143.8 524.2,143.8 525.2,143.8 526.2,143.8 526.8,143.8" fill="none" stroke="#000" stroke-width="1.5" stroke-linejoin="round" stroke-linecap="butt" stroke-dasharray="1.2,1.25" />
<polyline points="335.2,267.5 340.0,261.0 346.0,254.5 351.0,249.5 356.0,244.5 361.0,235.0 366.5,223.0 372.5,200.0 380.5,170.0 384.0,157.0 386.5,150.5 390.5,143.6 393.5,147.0 396.5,152.0 400.5,170.0 403.0,185.5 405.5,200.0 408.5,211.0 412.0,222.0 416.0,232.5 420.0,239.5 425.0,244.5 430.0,248.0 440.0,253.2 450.0,256.5 465.0,258.5 485.0,259.5 526.8,259.6" fill="none" stroke="#111" stroke-width="1.6" stroke-linejoin="round" stroke-linecap="butt" />
</g>
<line x1="326.2" y1="189.7" x2="390.8" y2="189.7" stroke="#666" stroke-width="1.3" stroke-dasharray="4.8,5.4" stroke-dashoffset="1.3"/>
<line x1="390.8" y1="137.3" x2="390.8" y2="273.5" stroke="#666" stroke-width="1.3" stroke-dasharray="4.8,5.4" stroke-dashoffset="0.4"/>
<circle cx="403.2" cy="185.5" r="3.9" fill="none" stroke="#111" stroke-width="0.9"/>
<line x1="407.1" y1="185.5" x2="417.5" y2="185.5" stroke="#222" stroke-width="0.8"/>
<polygon points="420.7,185.5 416.7,184 416.7,187" fill="#111"/>
<text x="395.5" y="145.7" font-family="'Liberation Sans', sans-serif" font-size="8.2" fill="#222" stroke="#222" stroke-width="0.25">HE</text>
<text x="407.6" y="146.8" font-family="'Liberation Sans', sans-serif" font-size="5.3" fill="#333" stroke="#333" stroke-width="0.15">11</text>
<line x1="402.5" y1="150.5" x2="409" y2="157.8" stroke="#222" stroke-width="0.8"/>
<polygon points="410.6,159.7 407.5,157.8 409.8,155.7" fill="#111"/>
<rect x="39.7" y="138" width="206.10000000000002" height="135.7" fill="none" stroke="#3a3a3a" stroke-width="1.1"/>
<line x1="48.70" y1="273.7" x2="48.70" y2="276.5" stroke="#222" stroke-width="0.8"/>
<text x="46.07" y="286.2" font-family="'Liberation Sans', sans-serif" font-size="9.0" fill="#262626" stroke="#262626" stroke-width="0.28" textLength="5.26" lengthAdjust="spacingAndGlyphs">1</text>
<line x1="88.24" y1="273.7" x2="88.24" y2="276.5" stroke="#222" stroke-width="0.8"/>
<text x="85.61" y="286.2" font-family="'Liberation Sans', sans-serif" font-size="9.0" fill="#262626" stroke="#262626" stroke-width="0.28" textLength="5.26" lengthAdjust="spacingAndGlyphs">5</text>
<line x1="112.95" y1="273.7" x2="112.95" y2="276.5" stroke="#222" stroke-width="0.8"/>
<text x="106.37" y="286.2" font-family="'Liberation Sans', sans-serif" font-size="9.0" fill="#262626" stroke="#262626" stroke-width="0.28" textLength="13.15" lengthAdjust="spacingAndGlyphs">7.5</text>
<line x1="137.66" y1="273.7" x2="137.66" y2="276.5" stroke="#222" stroke-width="0.8"/>
<text x="132.40" y="286.2" font-family="'Liberation Sans', sans-serif" font-size="9.0" fill="#262626" stroke="#262626" stroke-width="0.28" textLength="10.52" lengthAdjust="spacingAndGlyphs">10</text>
<line x1="187.08" y1="273.7" x2="187.08" y2="276.5" stroke="#222" stroke-width="0.8"/>
<text x="181.82" y="286.2" font-family="'Liberation Sans', sans-serif" font-size="9.0" fill="#262626" stroke="#262626" stroke-width="0.28" textLength="10.52" lengthAdjust="spacingAndGlyphs">15</text>
<line x1="236.50" y1="273.7" x2="236.50" y2="276.5" stroke="#222" stroke-width="0.8"/>
<text x="231.24" y="286.2" font-family="'Liberation Sans', sans-serif" font-size="9.0" fill="#262626" stroke="#262626" stroke-width="0.28" textLength="10.52" lengthAdjust="spacingAndGlyphs">20</text>
<line x1="36.900000000000006" y1="262.77" x2="39.7" y2="262.77" stroke="#222" stroke-width="0.8"/>
<text x="19.95" y="266.12" font-family="'Liberation Sans', sans-serif" font-size="9.0" fill="#262626" stroke="#262626" stroke-width="0.28" textLength="13.15" lengthAdjust="spacingAndGlyphs">2.5</text>
<line x1="36.900000000000006" y1="245.85" x2="39.7" y2="245.85" stroke="#222" stroke-width="0.8"/>
<text x="19.95" y="249.20" font-family="'Liberation Sans', sans-serif" font-size="9.0" fill="#262626" stroke="#262626" stroke-width="0.28" textLength="13.15" lengthAdjust="spacingAndGlyphs">5.0</text>
<line x1="36.900000000000006" y1="228.93" x2="39.7" y2="228.93" stroke="#222" stroke-width="0.8"/>
<text x="19.95" y="232.28" font-family="'Liberation Sans', sans-serif" font-size="9.0" fill="#262626" stroke="#262626" stroke-width="0.28" textLength="13.15" lengthAdjust="spacingAndGlyphs">7.5</text>
<line x1="36.900000000000006" y1="212.00" x2="39.7" y2="212.00" stroke="#222" stroke-width="0.8"/>
<text x="14.69" y="215.35" font-family="'Liberation Sans', sans-serif" font-size="9.0" fill="#262626" stroke="#262626" stroke-width="0.28" textLength="18.41" lengthAdjust="spacingAndGlyphs">10.0</text>
<line x1="36.900000000000006" y1="195.08" x2="39.7" y2="195.08" stroke="#222" stroke-width="0.8"/>
<text x="14.69" y="198.43" font-family="'Liberation Sans', sans-serif" font-size="9.0" fill="#262626" stroke="#262626" stroke-width="0.28" textLength="18.41" lengthAdjust="spacingAndGlyphs">12.5</text>
<line x1="36.900000000000006" y1="178.15" x2="39.7" y2="178.15" stroke="#222" stroke-width="0.8"/>
<text x="14.69" y="181.50" font-family="'Liberation Sans', sans-serif" font-size="9.0" fill="#262626" stroke="#262626" stroke-width="0.28" textLength="18.41" lengthAdjust="spacingAndGlyphs">15.0</text>
<line x1="36.900000000000006" y1="161.23" x2="39.7" y2="161.23" stroke="#222" stroke-width="0.8"/>
<text x="14.69" y="164.58" font-family="'Liberation Sans', sans-serif" font-size="9.0" fill="#262626" stroke="#262626" stroke-width="0.28" textLength="18.41" lengthAdjust="spacingAndGlyphs">17.5</text>
<line x1="36.900000000000006" y1="144.30" x2="39.7" y2="144.30" stroke="#222" stroke-width="0.8"/>
<text x="14.69" y="147.65" font-family="'Liberation Sans', sans-serif" font-size="9.0" fill="#262626" stroke="#262626" stroke-width="0.28" textLength="18.41" lengthAdjust="spacingAndGlyphs">20.0</text>
<line x1="245.8" y1="257.00" x2="248.60000000000002" y2="257.00" stroke="#222" stroke-width="0.8"/>
<text x="252.20000000000002" y="260.35" font-family="'Liberation Sans', sans-serif" font-size="9.0" fill="#262626" stroke="#262626" stroke-width="0.28" textLength="5.26" lengthAdjust="spacingAndGlyphs">1</text>
<line x1="245.8" y1="232.67" x2="248.60000000000002" y2="232.67" stroke="#222" stroke-width="0.8"/>
<text x="252.20000000000002" y="236.02" font-family="'Liberation Sans', sans-serif" font-size="9.0" fill="#262626" stroke="#262626" stroke-width="0.28" textLength="5.26" lengthAdjust="spacingAndGlyphs">2</text>
<line x1="245.8" y1="208.34" x2="248.60000000000002" y2="208.34" stroke="#222" stroke-width="0.8"/>
<text x="252.20000000000002" y="211.69" font-family="'Liberation Sans', sans-serif" font-size="9.0" fill="#262626" stroke="#262626" stroke-width="0.28" textLength="5.26" lengthAdjust="spacingAndGlyphs">3</text>
<line x1="245.8" y1="184.01" x2="248.60000000000002" y2="184.01" stroke="#222" stroke-width="0.8"/>
<text x="252.20000000000002" y="187.36" font-family="'Liberation Sans', sans-serif" font-size="9.0" fill="#262626" stroke="#262626" stroke-width="0.28" textLength="5.26" lengthAdjust="spacingAndGlyphs">4</text>
<line x1="245.8" y1="159.68" x2="248.60000000000002" y2="159.68" stroke="#222" stroke-width="0.8"/>
<text x="252.20000000000002" y="163.03" font-family="'Liberation Sans', sans-serif" font-size="9.0" fill="#262626" stroke="#262626" stroke-width="0.28" textLength="5.26" lengthAdjust="spacingAndGlyphs">5</text>
<text x="131.7" y="297.4" font-family="'Liberation Sans', sans-serif" font-size="9.0" fill="#262626" stroke="#262626" stroke-width="0.28" textLength="21.6" lengthAdjust="spacingAndGlyphs">r, <tspan font-style="italic">µ</tspan>m</text>
<text transform="translate(10.9,214.5) rotate(-90)" font-family="'Liberation Sans', sans-serif" font-size="10.4" fill="#262626" stroke="#262626" stroke-width="0.2" textLength="18.4" lengthAdjust="spacingAndGlyphs">R, %</text>
<text x="123.3" y="315.7" font-family="'Liberation Serif', serif" font-size="12" fill="#000">(<tspan font-weight="bold">a</tspan>)</text>
<rect x="326.2" y="137.3" width="209.3" height="136.2" fill="none" stroke="#3a3a3a" stroke-width="1.1"/>
<line x1="335.20" y1="273.5" x2="335.20" y2="276.3" stroke="#222" stroke-width="0.8"/>
<text x="332.57" y="286.5" font-family="'Liberation Sans', sans-serif" font-size="9.0" fill="#262626" stroke="#262626" stroke-width="0.28" textLength="5.26" lengthAdjust="spacingAndGlyphs">1</text>
<line x1="375.54" y1="273.5" x2="375.54" y2="276.3" stroke="#222" stroke-width="0.8"/>
<text x="372.91" y="286.5" font-family="'Liberation Sans', sans-serif" font-size="9.0" fill="#262626" stroke="#262626" stroke-width="0.28" textLength="5.26" lengthAdjust="spacingAndGlyphs">5</text>
<line x1="390.66" y1="273.5" x2="390.66" y2="276.3" stroke="#222" stroke-width="0.8"/>
<text x="384.09" y="286.5" font-family="'Liberation Sans', sans-serif" font-size="9.0" fill="#262626" stroke="#262626" stroke-width="0.28" textLength="13.15" lengthAdjust="spacingAndGlyphs">6.5</text>
<line x1="425.96" y1="273.5" x2="425.96" y2="276.3" stroke="#222" stroke-width="0.8"/>
<text x="420.70" y="286.5" font-family="'Liberation Sans', sans-serif" font-size="9.0" fill="#262626" stroke="#262626" stroke-width="0.28" textLength="10.52" lengthAdjust="spacingAndGlyphs">10</text>
<line x1="476.38" y1="273.5" x2="476.38" y2="276.3" stroke="#222" stroke-width="0.8"/>
<text x="471.12" y="286.5" font-family="'Liberation Sans', sans-serif" font-size="9.0" fill="#262626" stroke="#262626" stroke-width="0.28" textLength="10.52" lengthAdjust="spacingAndGlyphs">15</text>
<line x1="526.80" y1="273.5" x2="526.80" y2="276.3" stroke="#222" stroke-width="0.8"/>
<text x="521.54" y="286.5" font-family="'Liberation Sans', sans-serif" font-size="9.0" fill="#262626" stroke="#262626" stroke-width="0.28" textLength="10.52" lengthAdjust="spacingAndGlyphs">20</text>
<line x1="323.4" y1="252.30" x2="326.2" y2="252.30" stroke="#222" stroke-width="0.8"/>
<text x="306.45" y="255.65" font-family="'Liberation Sans', sans-serif" font-size="9.0" fill="#262626" stroke="#262626" stroke-width="0.28" textLength="13.15" lengthAdjust="spacingAndGlyphs">2.5</text>
<line x1="323.4" y1="236.80" x2="326.2" y2="236.80" stroke="#222" stroke-width="0.8"/>
<text x="306.45" y="240.15" font-family="'Liberation Sans', sans-serif" font-size="9.0" fill="#262626" stroke="#262626" stroke-width="0.28" textLength="13.15" lengthAdjust="spacingAndGlyphs">5.0</text>
<line x1="323.4" y1="221.30" x2="326.2" y2="221.30" stroke="#222" stroke-width="0.8"/>
<text x="306.45" y="224.65" font-family="'Liberation Sans', sans-serif" font-size="9.0" fill="#262626" stroke="#262626" stroke-width="0.28" textLength="13.15" lengthAdjust="spacingAndGlyphs">7.5</text>
<line x1="323.4" y1="205.80" x2="326.2" y2="205.80" stroke="#222" stroke-width="0.8"/>
<text x="301.19" y="209.15" font-family="'Liberation Sans', sans-serif" font-size="9.0" fill="#262626" stroke="#262626" stroke-width="0.28" textLength="18.41" lengthAdjust="spacingAndGlyphs">10.0</text>
<line x1="323.4" y1="190.30" x2="326.2" y2="190.30" stroke="#222" stroke-width="0.8"/>
<text x="301.19" y="193.65" font-family="'Liberation Sans', sans-serif" font-size="9.0" fill="#262626" stroke="#262626" stroke-width="0.28" textLength="18.41" lengthAdjust="spacingAndGlyphs">12.5</text>
<line x1="323.4" y1="174.80" x2="326.2" y2="174.80" stroke="#222" stroke-width="0.8"/>
<text x="301.19" y="178.15" font-family="'Liberation Sans', sans-serif" font-size="9.0" fill="#262626" stroke="#262626" stroke-width="0.28" textLength="18.41" lengthAdjust="spacingAndGlyphs">15.0</text>
<line x1="323.4" y1="159.30" x2="326.2" y2="159.30" stroke="#222" stroke-width="0.8"/>
<text x="301.19" y="162.65" font-family="'Liberation Sans', sans-serif" font-size="9.0" fill="#262626" stroke="#262626" stroke-width="0.28" textLength="18.41" lengthAdjust="spacingAndGlyphs">17.5</text>
<line x1="323.4" y1="143.80" x2="326.2" y2="143.80" stroke="#222" stroke-width="0.8"/>
<text x="301.19" y="147.15" font-family="'Liberation Sans', sans-serif" font-size="9.0" fill="#262626" stroke="#262626" stroke-width="0.28" textLength="18.41" lengthAdjust="spacingAndGlyphs">20.0</text>
<line x1="535.5" y1="242.50" x2="538.3" y2="242.50" stroke="#222" stroke-width="0.8"/>
<text x="541.9" y="245.85" font-family="'Liberation Sans', sans-serif" font-size="9.0" fill="#262626" stroke="#262626" stroke-width="0.28" textLength="5.26" lengthAdjust="spacingAndGlyphs">2</text>
<line x1="535.5" y1="207.94" x2="538.3" y2="207.94" stroke="#222" stroke-width="0.8"/>
<text x="541.9" y="211.29" font-family="'Liberation Sans', sans-serif" font-size="9.0" fill="#262626" stroke="#262626" stroke-width="0.28" textLength="5.26" lengthAdjust="spacingAndGlyphs">4</text>
<line x1="535.5" y1="173.38" x2="538.3" y2="173.38" stroke="#222" stroke-width="0.8"/>
<text x="541.9" y="176.73" font-family="'Liberation Sans', sans-serif" font-size="9.0" fill="#262626" stroke="#262626" stroke-width="0.28" textLength="5.26" lengthAdjust="spacingAndGlyphs">6</text>
<line x1="535.5" y1="138.82" x2="538.3" y2="138.82" stroke="#222" stroke-width="0.8"/>
<text x="541.9" y="142.17" font-family="'Liberation Sans', sans-serif" font-size="9.0" fill="#262626" stroke="#262626" stroke-width="0.28" textLength="5.26" lengthAdjust="spacingAndGlyphs">8</text>
<text x="419.6" y="297.6" font-family="'Liberation Sans', sans-serif" font-size="9.0" fill="#262626" stroke="#262626" stroke-width="0.28" textLength="21.6" lengthAdjust="spacingAndGlyphs">r, <tspan font-style="italic">µ</tspan>m</text>
<text transform="translate(296.2,214.8) rotate(-90)" font-family="'Liberation Sans', sans-serif" font-size="10.4" fill="#262626" stroke="#262626" stroke-width="0.2" textLength="18.4" lengthAdjust="spacingAndGlyphs">R, %</text>
<text x="409.3" y="315.5" font-family="'Liberation Serif', serif" font-size="12" fill="#000">(<tspan font-weight="bold">b</tspan>)</text>
</svg></body></html>
